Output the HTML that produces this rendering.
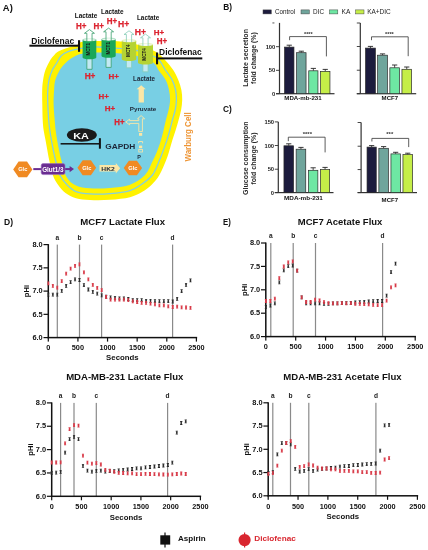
<!DOCTYPE html>
<html><head><meta charset="utf-8"><style>
html,body{margin:0;padding:0;background:#fff;}
body{width:428px;height:550px;overflow:hidden;}
svg{display:block;font-family:"Liberation Sans", sans-serif;filter:blur(0.35px);}
</style></head><body>
<svg width="428" height="550" viewBox="0 0 428 550">
<rect width="428" height="550" fill="#fff"/>
<path d="M98.00,41.10 C102.67,41.12 111.50,40.72 118.00,41.30 C124.50,41.88 131.67,43.27 137.00,44.60 C142.33,45.93 146.67,47.97 150.00,49.30 C153.33,50.63 154.50,50.82 157.00,52.60 C159.50,54.38 162.30,57.10 165.00,60.00 C167.70,62.90 170.98,66.67 173.20,70.00 C175.42,73.33 176.93,76.67 178.30,80.00 C179.67,83.33 180.75,86.67 181.40,90.00 C182.05,93.33 182.25,96.67 182.20,100.00 C182.15,103.33 181.70,106.67 181.10,110.00 C180.50,113.33 179.50,116.67 178.60,120.00 C177.70,123.33 176.73,126.67 175.70,130.00 C174.67,133.33 173.43,136.67 172.40,140.00 C171.37,143.33 170.53,146.67 169.50,150.00 C168.47,153.33 167.88,155.83 166.20,160.00 C164.52,164.17 161.87,170.83 159.40,175.00 C156.93,179.17 154.30,182.17 151.40,185.00 C148.50,187.83 145.57,189.97 142.00,192.00 C138.43,194.03 135.33,195.90 130.00,197.20 C124.67,198.50 116.67,199.33 110.00,199.80 C103.33,200.27 95.67,200.27 90.00,200.00 C84.33,199.73 80.08,199.37 76.00,198.20 C71.92,197.03 68.47,195.20 65.50,193.00 C62.53,190.80 60.32,188.00 58.20,185.00 C56.08,182.00 54.30,179.17 52.80,175.00 C51.30,170.83 50.12,164.17 49.20,160.00 C48.28,155.83 47.92,153.33 47.30,150.00 C46.68,146.67 46.12,143.33 45.50,140.00 C44.88,136.67 44.07,133.33 43.60,130.00 C43.13,126.67 42.92,124.33 42.70,120.00 C42.48,115.67 42.38,109.00 42.30,104.00 C42.22,99.00 42.07,94.00 42.20,90.00 C42.33,86.00 42.57,83.33 43.10,80.00 C43.63,76.67 44.20,73.33 45.40,70.00 C46.60,66.67 48.85,62.47 50.30,60.00 C51.75,57.53 52.78,56.62 54.10,55.20 C55.42,53.78 55.90,52.75 58.20,51.50 C60.50,50.25 64.93,48.68 67.90,47.70 C70.87,46.72 73.82,46.55 76.00,45.60 C78.18,44.65 78.67,42.73 81.00,42.00 C83.33,41.27 87.17,41.35 90.00,41.20 C92.83,41.05 93.33,41.08 98.00,41.10Z" fill="#fff200"/>
<path d="M98.00,52.50 C102.67,52.58 111.50,52.72 118.00,53.30 C124.50,53.88 131.67,54.80 137.00,56.00 C142.33,57.20 146.92,59.03 150.00,60.50 C153.08,61.97 154.08,63.22 155.50,64.80 C156.92,66.38 156.80,67.47 158.50,70.00 C160.20,72.53 163.95,76.67 165.70,80.00 C167.45,83.33 168.27,86.67 169.00,90.00 C169.73,93.33 170.17,96.67 170.10,100.00 C170.03,103.33 169.30,106.67 168.60,110.00 C167.90,113.33 166.73,116.67 165.90,120.00 C165.07,123.33 164.42,126.67 163.60,130.00 C162.78,133.33 162.00,136.67 161.00,140.00 C160.00,143.33 158.92,146.67 157.60,150.00 C156.28,153.33 155.20,155.83 153.10,160.00 C151.00,164.17 148.93,170.83 145.00,175.00 C141.07,179.17 135.33,182.85 129.50,185.00 C123.67,187.15 116.58,187.35 110.00,187.90 C103.42,188.45 95.67,188.70 90.00,188.30 C84.33,187.90 79.92,187.38 76.00,185.50 C72.08,183.62 68.95,181.25 66.50,177.00 C64.05,172.75 62.55,164.50 61.30,160.00 C60.05,155.50 59.70,153.33 59.00,150.00 C58.30,146.67 57.67,143.33 57.10,140.00 C56.53,136.67 56.00,133.33 55.60,130.00 C55.20,126.67 55.03,124.33 54.70,120.00 C54.37,115.67 53.70,109.00 53.60,104.00 C53.50,99.00 53.82,94.00 54.10,90.00 C54.38,86.00 54.35,83.33 55.30,80.00 C56.25,76.67 58.25,72.67 59.80,70.00 C61.35,67.33 62.87,65.83 64.60,64.00 C66.33,62.17 68.15,60.47 70.20,59.00 C72.25,57.53 74.93,56.08 76.90,55.20 C78.87,54.32 79.82,54.10 82.00,53.70 C84.18,53.30 87.33,53.00 90.00,52.80 C92.67,52.60 93.33,52.42 98.00,52.50Z" fill="#78cfe4"/>
<path d="M98.00,47.00 C102.67,47.18 111.50,47.72 118.00,48.30 C124.50,48.88 131.67,49.47 137.00,50.50 C142.33,51.53 146.33,52.92 150.00,54.50 C153.67,56.08 156.43,57.42 159.00,60.00 C161.57,62.58 163.20,66.67 165.40,70.00 C167.60,73.33 170.50,76.67 172.20,80.00 C173.90,83.33 174.90,86.67 175.60,90.00 C176.30,93.33 176.47,96.67 176.40,100.00 C176.33,103.33 175.87,106.67 175.20,110.00 C174.53,113.33 173.28,116.67 172.40,120.00 C171.52,123.33 170.80,126.67 169.90,130.00 C169.00,133.33 168.08,136.67 167.00,140.00 C165.92,143.33 164.63,146.67 163.40,150.00 C162.17,153.33 161.43,155.83 159.60,160.00 C157.77,164.17 155.58,170.83 152.40,175.00 C149.22,179.17 144.23,182.40 140.50,185.00 C136.77,187.60 135.08,189.17 130.00,190.60 C124.92,192.03 116.67,193.05 110.00,193.60 C103.33,194.15 95.67,194.23 90.00,193.90 C84.33,193.57 79.80,193.08 76.00,191.60 C72.20,190.12 69.90,187.77 67.20,185.00 C64.50,182.23 61.75,179.17 59.80,175.00 C57.85,170.83 56.58,164.17 55.50,160.00 C54.42,155.83 53.98,153.33 53.30,150.00 C52.62,146.67 51.98,143.33 51.40,140.00 C50.82,136.67 50.25,133.33 49.80,130.00 C49.35,126.67 49.03,124.33 48.70,120.00 C48.37,115.67 47.95,109.00 47.80,104.00 C47.65,99.00 47.60,94.00 47.80,90.00 C48.00,86.00 48.25,83.33 49.00,80.00 C49.75,76.67 51.00,72.83 52.30,70.00 C53.60,67.17 55.32,65.38 56.80,63.00 C58.28,60.62 59.33,57.60 61.20,55.70 C63.07,53.80 64.88,52.78 68.00,51.60 C71.12,50.42 76.23,49.33 79.90,48.60 C83.57,47.87 86.98,47.47 90.00,47.20 C93.02,46.93 93.33,46.82 98.00,47.00Z" fill="none" stroke="#86d0dc" stroke-width="1.3"/>
<ellipse cx="89.45" cy="40.00" rx="6.85" ry="1.3" fill="#f4fbf6" stroke="#1aa758" stroke-width="0.5" stroke-opacity="0.7"/>
<path d="M89.45,29.60 L94.45,33.30 L92.05,33.30 L92.05,69.30 L86.85,69.30 L86.85,33.30 L84.45,33.30Z" fill="#fff" fill-opacity="0.55" stroke="#3a9e6c" stroke-width="0.8"/>
<path d="M82.60,40.00 A6.85,1.3 0 0 0 96.30,40.00 L96.30,57.40 A6.85,1.80 0 0 1 82.60,57.40Z" fill="#1aa758"/>
<text transform="translate(90.35,49.30) rotate(-90)" font-size="4.6" font-weight="bold" fill="#1a1a1a" text-anchor="middle">MCT1</text>
<ellipse cx="108.60" cy="39.40" rx="7.10" ry="1.3" fill="#f4fbf6" stroke="#1aa758" stroke-width="0.5" stroke-opacity="0.7"/>
<path d="M108.60,28.10 L113.60,31.80 L111.20,31.80 L111.20,67.40 L106.00,67.40 L106.00,31.80 L103.60,31.80Z" fill="#fff" fill-opacity="0.55" stroke="#3a9e6c" stroke-width="0.8"/>
<path d="M101.50,39.40 A7.10,1.3 0 0 0 115.70,39.40 L115.70,56.00 A7.10,1.80 0 0 1 101.50,56.00Z" fill="#1aa758"/>
<text transform="translate(109.50,48.30) rotate(-90)" font-size="4.6" font-weight="bold" fill="#1a1a1a" text-anchor="middle">MCT1</text>
<ellipse cx="129.00" cy="41.00" rx="7.20" ry="1.3" fill="#f4fbf6" stroke="#b5d334" stroke-width="0.5" stroke-opacity="0.7"/>
<path d="M129.00,30.80 L134.00,34.50 L131.60,34.50 L131.60,67.80 L126.40,67.80 L126.40,34.50 L124.00,34.50Z" fill="#fff" fill-opacity="0.55" stroke="#86cdb8" stroke-width="0.8"/>
<path d="M121.80,41.00 A7.20,1.3 0 0 0 136.20,41.00 L136.20,59.20 A7.20,1.80 0 0 1 121.80,59.20Z" fill="#b5d334"/>
<text transform="translate(129.90,50.70) rotate(-90)" font-size="4.6" font-weight="bold" fill="#1a1a1a" text-anchor="middle">MCT4</text>
<ellipse cx="145.50" cy="44.80" rx="7.50" ry="1.3" fill="#f4fbf6" stroke="#b5d334" stroke-width="0.5" stroke-opacity="0.7"/>
<path d="M145.50,34.10 L150.50,37.80 L148.10,37.80 L148.10,71.80 L142.90,71.80 L142.90,37.80 L140.50,37.80Z" fill="#fff" fill-opacity="0.55" stroke="#86cdb8" stroke-width="0.8"/>
<path d="M138.00,44.80 A7.50,1.3 0 0 0 153.00,44.80 L153.00,62.80 A7.50,1.80 0 0 1 138.00,62.80Z" fill="#b5d334"/>
<text transform="translate(146.40,54.40) rotate(-90)" font-size="4.6" font-weight="bold" fill="#1a1a1a" text-anchor="middle">MCT4</text>
<rect x="29.4" y="44.7" width="50" height="2" fill="#111"/>
<rect x="78" y="40.2" width="2.1" height="11.6" fill="#111"/>
<rect x="156.3" y="57.4" width="46" height="2" fill="#111"/>
<rect x="156" y="52.5" width="2.1" height="11.8" fill="#111"/>
<text x="31.33" y="43.50" font-size="9" font-weight="bold" fill="#111" textLength="42.81" lengthAdjust="spacingAndGlyphs" >Diclofenac</text>
<text x="159.14" y="54.90" font-size="8.4" font-weight="bold" fill="#111" textLength="42.51" lengthAdjust="spacingAndGlyphs" >Diclofenac</text>
<text x="74.77" y="17.90" font-size="6.8" font-weight="bold" fill="#111" textLength="22.55" lengthAdjust="spacingAndGlyphs" >Lactate</text>
<text x="100.97" y="13.60" font-size="6.8" font-weight="bold" fill="#111" textLength="22.55" lengthAdjust="spacingAndGlyphs" >Lactate</text>
<text x="136.98" y="20.00" font-size="6.8" font-weight="bold" fill="#111" textLength="22.24" lengthAdjust="spacingAndGlyphs" >Lactate</text>
<text x="75.96" y="29.00" font-size="8.7" font-weight="bold" fill="#dc2430" textLength="10.46" lengthAdjust="spacingAndGlyphs" stroke="#dc2430" stroke-width="0.25">H+</text>
<text x="93.46" y="29.00" font-size="8.7" font-weight="bold" fill="#dc2430" textLength="10.46" lengthAdjust="spacingAndGlyphs" stroke="#dc2430" stroke-width="0.25">H+</text>
<text x="106.66" y="23.60" font-size="9.13" font-weight="bold" fill="#dc2430" textLength="10.46" lengthAdjust="spacingAndGlyphs" stroke="#dc2430" stroke-width="0.25">H+</text>
<text x="117.93" y="26.80" font-size="8.84" font-weight="bold" fill="#dc2430" textLength="11.22" lengthAdjust="spacingAndGlyphs" stroke="#dc2430" stroke-width="0.25">H+</text>
<text x="134.73" y="34.80" font-size="8.56" font-weight="bold" fill="#dc2430" textLength="11.22" lengthAdjust="spacingAndGlyphs" stroke="#dc2430" stroke-width="0.25">H+</text>
<text x="153.66" y="34.90" font-size="7.84" font-weight="bold" fill="#dc2430" textLength="10.46" lengthAdjust="spacingAndGlyphs" stroke="#dc2430" stroke-width="0.25">H+</text>
<text x="156.76" y="43.60" font-size="8.56" font-weight="bold" fill="#dc2430" textLength="10.46" lengthAdjust="spacingAndGlyphs" stroke="#dc2430" stroke-width="0.25">H+</text>
<text x="84.65" y="79.30" font-size="8.13" font-weight="bold" fill="#dc2430" textLength="10.79" lengthAdjust="spacingAndGlyphs" stroke="#dc2430" stroke-width="0.25">H+</text>
<text x="108.56" y="79.40" font-size="7.99" font-weight="bold" fill="#dc2430" textLength="10.46" lengthAdjust="spacingAndGlyphs" stroke="#dc2430" stroke-width="0.25">H+</text>
<text x="98.47" y="99.10" font-size="7.84" font-weight="bold" fill="#dc2430" textLength="10.35" lengthAdjust="spacingAndGlyphs" stroke="#dc2430" stroke-width="0.25">H+</text>
<text x="104.76" y="111.10" font-size="7.84" font-weight="bold" fill="#dc2430" textLength="10.46" lengthAdjust="spacingAndGlyphs" stroke="#dc2430" stroke-width="0.25">H+</text>
<text x="114.27" y="124.70" font-size="8.27" font-weight="bold" fill="#dc2430" textLength="10.35" lengthAdjust="spacingAndGlyphs" stroke="#dc2430" stroke-width="0.25">H+</text>
<text x="133.08" y="80.90" font-size="6.7" font-weight="bold" fill="#1d2738" textLength="21.93" lengthAdjust="spacingAndGlyphs" >Lactate</text>
<text x="129.68" y="111.40" font-size="5.4" font-weight="bold" fill="#1d2738" textLength="26.64" lengthAdjust="spacingAndGlyphs" >Pyruvate</text>
<text x="105.26" y="148.80" font-size="7.6" font-weight="bold" fill="#1d2738" textLength="30.10" lengthAdjust="spacingAndGlyphs" >GAPDH</text>
<text x="137.23" y="158.50" font-size="5.8" font-weight="bold" fill="#1d2738" textLength="3.65" lengthAdjust="spacingAndGlyphs" >P</text>
<path d="M141.2,85.2 L145.8,89.2 L143.9,89.2 L143.9,102.6 L138.6,102.6 L138.6,89.2 L136.6,89.2Z" fill="#fbe7a6"/>
<path d="M141.1,115.6 L144.7,118.8 L142.4,118.8 L142.4,131.6 L138.8,131.6 L138.8,123.4 L129.6,123.4 L129.6,124.8 L125.8,122.0 L129.6,119.2 L129.6,120.6 L138.8,120.6 L138.8,118.8 L137.5,118.8Z" fill="none" stroke="#fbe7a6" stroke-width="0.9" stroke-linejoin="round"/>
<rect x="139" y="133" width="3.2" height="2.8" fill="#fbe7a6"/>
<path d="M138.6,141.5 L142.6,141.5 M138.6,141.5 L138.6,143.3 M142.6,141.5 L142.6,143.3" stroke="#fbe7a6" stroke-width="0.9" fill="none"/>
<rect x="139" y="145.6" width="3.2" height="2.6" fill="#fbe7a6"/>
<rect x="138.8" y="149.4" width="3.6" height="2.6" fill="none" stroke="#fbe7a6" stroke-width="0.8"/>
<ellipse cx="81.85" cy="135" rx="15" ry="6.7" fill="#1a1a1a"/>
<text x="73.17" y="139.00" font-size="9.2" font-weight="bold" fill="#fff" textLength="15.71" lengthAdjust="spacingAndGlyphs" >KA</text>
<rect x="60.6" y="143.05" width="39.3" height="1.5" fill="#111"/>
<rect x="98.9" y="138.2" width="2" height="10.5" fill="#111"/>
<polygon points="13.20,169.40 18.58,161.50 27.02,161.50 32.40,169.40 27.02,177.30 18.58,177.30" fill="#f08a22"/>
<text x="18.17" y="171.30" font-size="5.6" font-weight="bold" fill="#fff" textLength="9.20" lengthAdjust="spacingAndGlyphs" >Glc</text>
<polygon points="77.45,167.80 82.69,160.30 90.91,160.30 96.15,167.80 90.91,175.30 82.69,175.30" fill="#f08a22"/>
<text x="82.17" y="169.70" font-size="5.6" font-weight="bold" fill="#fff" textLength="9.20" lengthAdjust="spacingAndGlyphs" >Glc</text>
<polygon points="123.70,168.00 128.85,160.70 136.95,160.70 142.10,168.00 136.95,175.30 128.85,175.30" fill="#f08a22"/>
<text x="128.27" y="169.90" font-size="5.6" font-weight="bold" fill="#fff" textLength="9.20" lengthAdjust="spacingAndGlyphs" >Glc</text>
<rect x="33.3" y="168.1" width="37" height="2" fill="#6a2d91"/>
<path d="M69.6,166 L74,169.1 L69.6,172.2Z" fill="#6a2d91"/>
<rect x="41.2" y="163.6" width="23.8" height="11" rx="1.8" fill="#6a2d91" stroke="#9a6cc0" stroke-width="0.6"/>
<text x="42.14" y="171.60" font-size="6.4" font-weight="bold" fill="#fff" textLength="21.49" lengthAdjust="spacingAndGlyphs" >Glut1/3</text>
<path d="M99.5,165 L115.8,165 L115.8,163.1 L120.2,168.2 L115.8,173.4 L115.8,171.5 L99.5,171.5Z" fill="#fbe7a6"/>
<text x="101.35" y="170.60" font-size="6.2" font-weight="bold" fill="#1d2738" textLength="13.42" lengthAdjust="spacingAndGlyphs" >HK2</text>
<text transform="translate(191.40,161.60) rotate(-90)" x="-0.01" y="0" font-size="8.2" font-weight="bold" fill="#ee9535" textLength="49.37" lengthAdjust="spacingAndGlyphs">Warburg Cell</text>
<text x="2.87" y="11.20" font-size="9" font-weight="bold" fill="#111" textLength="9.90" lengthAdjust="spacingAndGlyphs" >A)</text>
<text x="223.30" y="9.60" font-size="8.4" font-weight="bold" fill="#111" text-anchor="start" textLength="8.80" lengthAdjust="spacingAndGlyphs" >B)</text>
<text x="223.00" y="111.90" font-size="8.6" font-weight="bold" fill="#111" text-anchor="start" textLength="8.80" lengthAdjust="spacingAndGlyphs" >C)</text>
<text x="4.00" y="225.20" font-size="8.6" font-weight="bold" fill="#111" text-anchor="start" textLength="9.00" lengthAdjust="spacingAndGlyphs" >D)</text>
<text x="223.00" y="225.40" font-size="8.6" font-weight="bold" fill="#111" text-anchor="start" textLength="7.80" lengthAdjust="spacingAndGlyphs" >E)</text>
<rect x="278.90" y="22.90" width="1.2" height="70.80" fill="#333"/>
<rect x="276.00" y="93.10" width="58.50" height="1.2" fill="#333"/>
<rect x="276.00" y="93.25" width="3.5" height="0.9" fill="#333"/>
<text x="275.30" y="95.70" font-size="5.8" font-weight="bold" fill="#222" text-anchor="end" >0</text>
<rect x="276.00" y="69.85" width="3.5" height="0.9" fill="#333"/>
<text x="275.30" y="72.30" font-size="5.8" font-weight="bold" fill="#222" text-anchor="end" >50</text>
<rect x="276.00" y="46.25" width="3.5" height="0.9" fill="#333"/>
<text x="275.30" y="48.70" font-size="5.8" font-weight="bold" fill="#222" text-anchor="end" >100</text>
<line x1="289.25" y1="45.20" x2="289.25" y2="47.10" stroke="#222" stroke-width="0.8"/>
<line x1="286.65" y1="45.20" x2="291.85" y2="45.20" stroke="#222" stroke-width="0.9"/>
<rect x="284.55" y="47.10" width="9.40" height="46.60" fill="#1c1b3d" stroke="#2a2a2a" stroke-width="0.7"/>
<line x1="301.30" y1="51.20" x2="301.30" y2="52.70" stroke="#222" stroke-width="0.8"/>
<line x1="298.70" y1="51.20" x2="303.90" y2="51.20" stroke="#222" stroke-width="0.9"/>
<rect x="296.55" y="52.70" width="9.50" height="41.00" fill="#6fa59c" stroke="#2a2a2a" stroke-width="0.7"/>
<line x1="313.35" y1="68.40" x2="313.35" y2="70.80" stroke="#222" stroke-width="0.8"/>
<line x1="310.75" y1="68.40" x2="315.95" y2="68.40" stroke="#222" stroke-width="0.9"/>
<rect x="308.75" y="70.80" width="9.20" height="22.90" fill="#6ee7a3" stroke="#2a2a2a" stroke-width="0.7"/>
<line x1="325.25" y1="69.40" x2="325.25" y2="71.40" stroke="#222" stroke-width="0.8"/>
<line x1="322.65" y1="69.40" x2="327.85" y2="69.40" stroke="#222" stroke-width="0.9"/>
<rect x="320.55" y="71.40" width="9.40" height="22.30" fill="#c5ee48" stroke="#2a2a2a" stroke-width="0.7"/>
<path d="M289.60,40.20 L289.60,36.60 L326.40,36.60 L326.40,56.40" fill="none" stroke="#333" stroke-width="0.8"/>
<text x="304.00" y="35.80" font-size="5.5" font-weight="bold" fill="#333" text-anchor="start" textLength="8.70" lengthAdjust="spacingAndGlyphs" >****</text>
<text x="284.30" y="100.20" font-size="5.8" font-weight="bold" fill="#111" text-anchor="start" textLength="37.30" lengthAdjust="spacingAndGlyphs" >MDA-mb-231</text>
<rect x="272.4" y="22.5" width="2" height="0.9" fill="#444"/>
<rect x="359.70" y="23.00" width="1.2" height="70.70" fill="#333"/>
<rect x="356.80" y="93.10" width="59.40" height="1.2" fill="#333"/>
<rect x="356.80" y="93.25" width="3.5" height="0.9" fill="#333"/>
<rect x="356.80" y="69.75" width="3.5" height="0.9" fill="#333"/>
<rect x="356.80" y="46.05" width="3.5" height="0.9" fill="#333"/>
<rect x="356.80" y="22.55" width="3.5" height="0.9" fill="#333"/>
<line x1="370.45" y1="46.40" x2="370.45" y2="48.10" stroke="#222" stroke-width="0.8"/>
<line x1="367.85" y1="46.40" x2="373.05" y2="46.40" stroke="#222" stroke-width="0.9"/>
<rect x="365.55" y="48.10" width="9.80" height="45.60" fill="#1c1b3d" stroke="#2a2a2a" stroke-width="0.7"/>
<line x1="382.55" y1="53.90" x2="382.55" y2="55.20" stroke="#222" stroke-width="0.8"/>
<line x1="379.95" y1="53.90" x2="385.15" y2="53.90" stroke="#222" stroke-width="0.9"/>
<rect x="377.65" y="55.20" width="9.80" height="38.50" fill="#6fa59c" stroke="#2a2a2a" stroke-width="0.7"/>
<line x1="394.65" y1="65.00" x2="394.65" y2="67.80" stroke="#222" stroke-width="0.8"/>
<line x1="392.05" y1="65.00" x2="397.25" y2="65.00" stroke="#222" stroke-width="0.9"/>
<rect x="389.85" y="67.80" width="9.60" height="25.90" fill="#6ee7a3" stroke="#2a2a2a" stroke-width="0.7"/>
<line x1="406.75" y1="67.00" x2="406.75" y2="69.30" stroke="#222" stroke-width="0.8"/>
<line x1="404.15" y1="67.00" x2="409.35" y2="67.00" stroke="#222" stroke-width="0.9"/>
<rect x="401.95" y="69.30" width="9.60" height="24.40" fill="#c5ee48" stroke="#2a2a2a" stroke-width="0.7"/>
<path d="M371.50,40.20 L371.50,36.80 L408.20,36.80 L408.20,56.20" fill="none" stroke="#333" stroke-width="0.8"/>
<text x="385.00" y="35.80" font-size="5.5" font-weight="bold" fill="#333" text-anchor="start" textLength="8.80" lengthAdjust="spacingAndGlyphs" >****</text>
<text x="381.60" y="100.20" font-size="5.8" font-weight="bold" fill="#111" text-anchor="start" textLength="16.50" lengthAdjust="spacingAndGlyphs" >MCF7</text>
<rect x="277.70" y="121.90" width="1.2" height="70.70" fill="#333"/>
<rect x="274.80" y="192.00" width="58.70" height="1.2" fill="#333"/>
<rect x="274.80" y="192.15" width="3.5" height="0.9" fill="#333"/>
<text x="274.10" y="194.60" font-size="5.8" font-weight="bold" fill="#222" text-anchor="end" >0</text>
<rect x="274.80" y="168.75" width="3.5" height="0.9" fill="#333"/>
<text x="274.10" y="171.20" font-size="5.8" font-weight="bold" fill="#222" text-anchor="end" >50</text>
<rect x="274.80" y="145.05" width="3.5" height="0.9" fill="#333"/>
<text x="274.10" y="147.50" font-size="5.8" font-weight="bold" fill="#222" text-anchor="end" >100</text>
<rect x="274.80" y="121.45" width="3.5" height="0.9" fill="#333"/>
<text x="274.10" y="123.90" font-size="5.8" font-weight="bold" fill="#222" text-anchor="end" >150</text>
<line x1="288.75" y1="143.80" x2="288.75" y2="145.80" stroke="#222" stroke-width="0.8"/>
<line x1="286.15" y1="143.80" x2="291.35" y2="143.80" stroke="#222" stroke-width="0.9"/>
<rect x="283.95" y="145.80" width="9.60" height="46.80" fill="#1c1b3d" stroke="#2a2a2a" stroke-width="0.7"/>
<line x1="300.95" y1="147.40" x2="300.95" y2="149.20" stroke="#222" stroke-width="0.8"/>
<line x1="298.35" y1="147.40" x2="303.55" y2="147.40" stroke="#222" stroke-width="0.9"/>
<rect x="296.15" y="149.20" width="9.60" height="43.40" fill="#6fa59c" stroke="#2a2a2a" stroke-width="0.7"/>
<line x1="313.15" y1="167.80" x2="313.15" y2="170.30" stroke="#222" stroke-width="0.8"/>
<line x1="310.55" y1="167.80" x2="315.75" y2="167.80" stroke="#222" stroke-width="0.9"/>
<rect x="308.45" y="170.30" width="9.40" height="22.30" fill="#6ee7a3" stroke="#2a2a2a" stroke-width="0.7"/>
<line x1="325.05" y1="167.40" x2="325.05" y2="169.60" stroke="#222" stroke-width="0.8"/>
<line x1="322.45" y1="167.40" x2="327.65" y2="167.40" stroke="#222" stroke-width="0.9"/>
<rect x="320.45" y="169.60" width="9.20" height="23.00" fill="#c5ee48" stroke="#2a2a2a" stroke-width="0.7"/>
<path d="M288.30,141.20 L288.30,137.20 L325.10,137.20 L325.10,152.40" fill="none" stroke="#333" stroke-width="0.8"/>
<text x="302.70" y="135.90" font-size="5.5" font-weight="bold" fill="#333" text-anchor="start" textLength="9.30" lengthAdjust="spacingAndGlyphs" >****</text>
<text x="284.00" y="200.20" font-size="5.8" font-weight="bold" fill="#111" text-anchor="start" textLength="38.90" lengthAdjust="spacingAndGlyphs" >MDA-mb-231</text>
<rect x="360.50" y="122.50" width="1.2" height="70.10" fill="#333"/>
<rect x="357.60" y="192.00" width="59.40" height="1.2" fill="#333"/>
<rect x="357.60" y="192.15" width="3.5" height="0.9" fill="#333"/>
<rect x="357.60" y="169.15" width="3.5" height="0.9" fill="#333"/>
<rect x="357.60" y="145.75" width="3.5" height="0.9" fill="#333"/>
<rect x="357.60" y="122.05" width="3.5" height="0.9" fill="#333"/>
<line x1="371.65" y1="145.60" x2="371.65" y2="147.10" stroke="#222" stroke-width="0.8"/>
<line x1="369.05" y1="145.60" x2="374.25" y2="145.60" stroke="#222" stroke-width="0.9"/>
<rect x="367.05" y="147.10" width="9.20" height="45.50" fill="#1c1b3d" stroke="#2a2a2a" stroke-width="0.7"/>
<line x1="383.60" y1="146.60" x2="383.60" y2="148.30" stroke="#222" stroke-width="0.8"/>
<line x1="381.00" y1="146.60" x2="386.20" y2="146.60" stroke="#222" stroke-width="0.9"/>
<rect x="378.85" y="148.30" width="9.50" height="44.30" fill="#6fa59c" stroke="#2a2a2a" stroke-width="0.7"/>
<line x1="395.65" y1="152.30" x2="395.65" y2="153.90" stroke="#222" stroke-width="0.8"/>
<line x1="393.05" y1="152.30" x2="398.25" y2="152.30" stroke="#222" stroke-width="0.9"/>
<rect x="390.95" y="153.90" width="9.40" height="38.70" fill="#6ee7a3" stroke="#2a2a2a" stroke-width="0.7"/>
<line x1="407.75" y1="153.20" x2="407.75" y2="154.60" stroke="#222" stroke-width="0.8"/>
<line x1="405.15" y1="153.20" x2="410.35" y2="153.20" stroke="#222" stroke-width="0.9"/>
<rect x="402.95" y="154.60" width="9.60" height="38.00" fill="#c5ee48" stroke="#2a2a2a" stroke-width="0.7"/>
<path d="M371.90,141.50 L371.90,138.40 L408.70,138.40 L408.70,147.10" fill="none" stroke="#333" stroke-width="0.8"/>
<text x="386.30" y="135.90" font-size="5.5" font-weight="bold" fill="#333" text-anchor="start" textLength="6.90" lengthAdjust="spacingAndGlyphs" >***</text>
<text x="381.60" y="201.50" font-size="5.8" font-weight="bold" fill="#111" text-anchor="start" textLength="16.50" lengthAdjust="spacingAndGlyphs" >MCF7</text>
<text transform="translate(247.70,86.20) rotate(-90)" x="-0.47" y="0" font-size="7.0" font-weight="bold" fill="#2a2a2a" textLength="57.60" lengthAdjust="spacingAndGlyphs">Lactate secretion</text>
<text transform="translate(256.20,83.80) rotate(-90)" x="-0.12" y="0" font-size="7.0" font-weight="bold" fill="#2a2a2a" textLength="51.77" lengthAdjust="spacingAndGlyphs">fold change (%)</text>
<text transform="translate(247.70,194.60) rotate(-90)" x="-0.29" y="0" font-size="7.0" font-weight="bold" fill="#2a2a2a" textLength="73.32" lengthAdjust="spacingAndGlyphs">Glucose consumption</text>
<text transform="translate(256.20,184.40) rotate(-90)" x="-0.12" y="0" font-size="7.0" font-weight="bold" fill="#2a2a2a" textLength="52.07" lengthAdjust="spacingAndGlyphs">fold change (%)</text>
<rect x="263.00" y="9.9" width="8.3" height="4.0" fill="#1c1b3d" stroke="#444" stroke-width="0.5"/>
<rect x="301.00" y="9.9" width="8.3" height="4.0" fill="#6fa59c" stroke="#444" stroke-width="0.5"/>
<rect x="329.50" y="9.9" width="8.3" height="4.0" fill="#6ee7a3" stroke="#444" stroke-width="0.5"/>
<rect x="355.70" y="9.9" width="8.3" height="4.0" fill="#c5ee48" stroke="#444" stroke-width="0.5"/>
<text x="274.88" y="14.40" font-size="6.8" fill="#222" textLength="20.34" lengthAdjust="spacingAndGlyphs" >Control</text>
<text x="313.08" y="14.40" font-size="6.8" fill="#222" textLength="10.96" lengthAdjust="spacingAndGlyphs" >DIC</text>
<text x="341.56" y="14.40" font-size="6.8" fill="#222" textLength="8.86" lengthAdjust="spacingAndGlyphs" >KA</text>
<text x="367.17" y="14.40" font-size="6.8" fill="#222" textLength="23.58" lengthAdjust="spacingAndGlyphs" >KA+DIC</text>
<rect x="56.70" y="244.60" width="1.2" height="93.00" fill="#8a8a8a"/>
<text x="57.30" y="239.60" font-size="6.6" font-weight="bold" fill="#222" text-anchor="middle" >a</text>
<rect x="78.90" y="244.60" width="1.2" height="93.00" fill="#8a8a8a"/>
<text x="79.50" y="239.60" font-size="6.6" font-weight="bold" fill="#222" text-anchor="middle" >b</text>
<rect x="101.00" y="244.60" width="1.2" height="93.00" fill="#8a8a8a"/>
<text x="101.60" y="239.60" font-size="6.6" font-weight="bold" fill="#222" text-anchor="middle" >c</text>
<rect x="172.00" y="244.60" width="1.2" height="93.00" fill="#8a8a8a"/>
<text x="172.60" y="239.60" font-size="6.6" font-weight="bold" fill="#222" text-anchor="middle" >d</text>
<rect x="47.55" y="244.10" width="1.5" height="94.00" fill="#111"/>
<rect x="47.55" y="336.85" width="149.60" height="1.5" fill="#111"/>
<rect x="43.50" y="337.00" width="4.8" height="1.2" fill="#111"/>
<text x="42.70" y="339.80" font-size="6.4" font-weight="bold" fill="#111" text-anchor="end" textLength="10.30" lengthAdjust="spacingAndGlyphs" >6.0</text>
<rect x="43.50" y="313.75" width="4.8" height="1.2" fill="#111"/>
<text x="42.70" y="316.55" font-size="6.4" font-weight="bold" fill="#111" text-anchor="end" textLength="10.30" lengthAdjust="spacingAndGlyphs" >6.5</text>
<rect x="43.50" y="290.50" width="4.8" height="1.2" fill="#111"/>
<text x="42.70" y="293.30" font-size="6.4" font-weight="bold" fill="#111" text-anchor="end" textLength="10.30" lengthAdjust="spacingAndGlyphs" >7.0</text>
<rect x="43.50" y="267.25" width="4.8" height="1.2" fill="#111"/>
<text x="42.70" y="270.05" font-size="6.4" font-weight="bold" fill="#111" text-anchor="end" textLength="10.30" lengthAdjust="spacingAndGlyphs" >7.5</text>
<rect x="43.50" y="244.00" width="4.8" height="1.2" fill="#111"/>
<text x="42.70" y="246.80" font-size="6.4" font-weight="bold" fill="#111" text-anchor="end" textLength="10.30" lengthAdjust="spacingAndGlyphs" >8.0</text>
<rect x="47.70" y="337.60" width="1.2" height="4" fill="#111"/>
<text x="48.30" y="350.30" font-size="7.3" font-weight="bold" fill="#111" text-anchor="middle" >0</text>
<rect x="77.32" y="337.60" width="1.2" height="4" fill="#111"/>
<text x="77.92" y="350.30" font-size="7.3" font-weight="bold" fill="#111" text-anchor="middle" >500</text>
<rect x="106.94" y="337.60" width="1.2" height="4" fill="#111"/>
<text x="107.54" y="350.30" font-size="7.3" font-weight="bold" fill="#111" text-anchor="middle" >1000</text>
<rect x="136.56" y="337.60" width="1.2" height="4" fill="#111"/>
<text x="137.16" y="350.30" font-size="7.3" font-weight="bold" fill="#111" text-anchor="middle" >1500</text>
<rect x="166.18" y="337.60" width="1.2" height="4" fill="#111"/>
<text x="166.78" y="350.30" font-size="7.3" font-weight="bold" fill="#111" text-anchor="middle" >2000</text>
<rect x="195.80" y="337.60" width="1.2" height="4" fill="#111"/>
<text x="196.40" y="350.30" font-size="7.3" font-weight="bold" fill="#111" text-anchor="middle" >2500</text>
<text x="122.35" y="359.60" font-size="7.6" font-weight="bold" fill="#111" text-anchor="middle" textLength="32.50" lengthAdjust="spacingAndGlyphs" >Seconds</text>
<text transform="translate(29.10,291.10) rotate(-90)" font-size="7.6" font-weight="bold" fill="#111" text-anchor="middle">pHi</text>
<text x="80.36" y="224.70" font-size="9.5" font-weight="bold" fill="#111" textLength="84.61" lengthAdjust="spacingAndGlyphs" >MCF7 Lactate Flux</text>
<path d="M47.30,292.70h2.2v0.8h-0.6v2.20h0.6v0.8h-2.2v-0.8h0.6v-2.20h-0.6z" fill="#2a2a2a"/>
<rect x="47.60" y="293.80" width="1.6" height="1.6" fill="#2a2a2a" fill-opacity="0.8"/>
<path d="M51.74,292.70h2.2v0.8h-0.6v2.20h0.6v0.8h-2.2v-0.8h0.6v-2.20h-0.6z" fill="#2a2a2a"/>
<rect x="52.04" y="293.80" width="1.6" height="1.6" fill="#2a2a2a" fill-opacity="0.8"/>
<path d="M56.18,292.70h2.2v0.8h-0.6v2.20h0.6v0.8h-2.2v-0.8h0.6v-2.20h-0.6z" fill="#2a2a2a"/>
<rect x="56.48" y="293.80" width="1.6" height="1.6" fill="#2a2a2a" fill-opacity="0.8"/>
<path d="M60.62,288.90h2.2v0.8h-0.6v2.20h0.6v0.8h-2.2v-0.8h0.6v-2.20h-0.6z" fill="#2a2a2a"/>
<rect x="60.92" y="290.00" width="1.6" height="1.6" fill="#2a2a2a" fill-opacity="0.8"/>
<path d="M65.06,283.90h2.2v0.8h-0.6v2.20h0.6v0.8h-2.2v-0.8h0.6v-2.20h-0.6z" fill="#2a2a2a"/>
<rect x="65.36" y="285.00" width="1.6" height="1.6" fill="#2a2a2a" fill-opacity="0.8"/>
<path d="M69.50,280.20h2.2v0.8h-0.6v2.20h0.6v0.8h-2.2v-0.8h0.6v-2.20h-0.6z" fill="#2a2a2a"/>
<rect x="69.80" y="281.30" width="1.6" height="1.6" fill="#2a2a2a" fill-opacity="0.8"/>
<path d="M73.94,277.40h2.2v0.8h-0.6v2.20h0.6v0.8h-2.2v-0.8h0.6v-2.20h-0.6z" fill="#2a2a2a"/>
<rect x="74.24" y="278.50" width="1.6" height="1.6" fill="#2a2a2a" fill-opacity="0.8"/>
<path d="M78.38,278.10h2.2v0.8h-0.6v2.20h0.6v0.8h-2.2v-0.8h0.6v-2.20h-0.6z" fill="#2a2a2a"/>
<rect x="78.68" y="279.20" width="1.6" height="1.6" fill="#2a2a2a" fill-opacity="0.8"/>
<path d="M82.82,283.30h2.2v0.8h-0.6v2.20h0.6v0.8h-2.2v-0.8h0.6v-2.20h-0.6z" fill="#2a2a2a"/>
<rect x="83.12" y="284.40" width="1.6" height="1.6" fill="#2a2a2a" fill-opacity="0.8"/>
<path d="M87.26,287.60h2.2v0.8h-0.6v2.20h0.6v0.8h-2.2v-0.8h0.6v-2.20h-0.6z" fill="#2a2a2a"/>
<rect x="87.56" y="288.70" width="1.6" height="1.6" fill="#2a2a2a" fill-opacity="0.8"/>
<path d="M91.70,289.90h2.2v0.8h-0.6v2.20h0.6v0.8h-2.2v-0.8h0.6v-2.20h-0.6z" fill="#2a2a2a"/>
<rect x="92.00" y="291.00" width="1.6" height="1.6" fill="#2a2a2a" fill-opacity="0.8"/>
<path d="M96.14,291.70h2.2v0.8h-0.6v2.20h0.6v0.8h-2.2v-0.8h0.6v-2.20h-0.6z" fill="#2a2a2a"/>
<rect x="96.44" y="292.80" width="1.6" height="1.6" fill="#2a2a2a" fill-opacity="0.8"/>
<path d="M100.58,293.40h2.2v0.8h-0.6v2.20h0.6v0.8h-2.2v-0.8h0.6v-2.20h-0.6z" fill="#2a2a2a"/>
<rect x="100.88" y="294.50" width="1.6" height="1.6" fill="#2a2a2a" fill-opacity="0.8"/>
<path d="M105.02,294.80h2.2v0.8h-0.6v2.20h0.6v0.8h-2.2v-0.8h0.6v-2.20h-0.6z" fill="#2a2a2a"/>
<rect x="105.32" y="295.90" width="1.6" height="1.6" fill="#2a2a2a" fill-opacity="0.8"/>
<path d="M109.46,295.40h2.2v0.8h-0.6v2.20h0.6v0.8h-2.2v-0.8h0.6v-2.20h-0.6z" fill="#2a2a2a"/>
<rect x="109.76" y="296.50" width="1.6" height="1.6" fill="#2a2a2a" fill-opacity="0.8"/>
<path d="M113.90,296.00h2.2v0.8h-0.6v2.20h0.6v0.8h-2.2v-0.8h0.6v-2.20h-0.6z" fill="#2a2a2a"/>
<rect x="114.20" y="297.10" width="1.6" height="1.6" fill="#2a2a2a" fill-opacity="0.8"/>
<path d="M118.34,296.50h2.2v0.8h-0.6v2.20h0.6v0.8h-2.2v-0.8h0.6v-2.20h-0.6z" fill="#2a2a2a"/>
<rect x="118.64" y="297.60" width="1.6" height="1.6" fill="#2a2a2a" fill-opacity="0.8"/>
<path d="M122.78,296.50h2.2v0.8h-0.6v2.20h0.6v0.8h-2.2v-0.8h0.6v-2.20h-0.6z" fill="#2a2a2a"/>
<rect x="123.08" y="297.60" width="1.6" height="1.6" fill="#2a2a2a" fill-opacity="0.8"/>
<path d="M127.22,297.10h2.2v0.8h-0.6v2.20h0.6v0.8h-2.2v-0.8h0.6v-2.20h-0.6z" fill="#2a2a2a"/>
<rect x="127.52" y="298.20" width="1.6" height="1.6" fill="#2a2a2a" fill-opacity="0.8"/>
<path d="M131.66,298.30h2.2v0.8h-0.6v2.20h0.6v0.8h-2.2v-0.8h0.6v-2.20h-0.6z" fill="#2a2a2a"/>
<rect x="131.96" y="299.40" width="1.6" height="1.6" fill="#2a2a2a" fill-opacity="0.8"/>
<path d="M136.10,298.30h2.2v0.8h-0.6v2.20h0.6v0.8h-2.2v-0.8h0.6v-2.20h-0.6z" fill="#2a2a2a"/>
<rect x="136.40" y="299.40" width="1.6" height="1.6" fill="#2a2a2a" fill-opacity="0.8"/>
<path d="M140.54,298.30h2.2v0.8h-0.6v2.20h0.6v0.8h-2.2v-0.8h0.6v-2.20h-0.6z" fill="#2a2a2a"/>
<rect x="140.84" y="299.40" width="1.6" height="1.6" fill="#2a2a2a" fill-opacity="0.8"/>
<path d="M144.98,298.90h2.2v0.8h-0.6v2.20h0.6v0.8h-2.2v-0.8h0.6v-2.20h-0.6z" fill="#2a2a2a"/>
<rect x="145.28" y="300.00" width="1.6" height="1.6" fill="#2a2a2a" fill-opacity="0.8"/>
<path d="M149.42,298.90h2.2v0.8h-0.6v2.20h0.6v0.8h-2.2v-0.8h0.6v-2.20h-0.6z" fill="#2a2a2a"/>
<rect x="149.72" y="300.00" width="1.6" height="1.6" fill="#2a2a2a" fill-opacity="0.8"/>
<path d="M153.86,299.30h2.2v0.8h-0.6v2.20h0.6v0.8h-2.2v-0.8h0.6v-2.20h-0.6z" fill="#2a2a2a"/>
<rect x="154.16" y="300.40" width="1.6" height="1.6" fill="#2a2a2a" fill-opacity="0.8"/>
<path d="M158.30,299.30h2.2v0.8h-0.6v2.20h0.6v0.8h-2.2v-0.8h0.6v-2.20h-0.6z" fill="#2a2a2a"/>
<rect x="158.60" y="300.40" width="1.6" height="1.6" fill="#2a2a2a" fill-opacity="0.8"/>
<path d="M162.74,299.30h2.2v0.8h-0.6v2.20h0.6v0.8h-2.2v-0.8h0.6v-2.20h-0.6z" fill="#2a2a2a"/>
<rect x="163.04" y="300.40" width="1.6" height="1.6" fill="#2a2a2a" fill-opacity="0.8"/>
<path d="M167.18,299.30h2.2v0.8h-0.6v2.20h0.6v0.8h-2.2v-0.8h0.6v-2.20h-0.6z" fill="#2a2a2a"/>
<rect x="167.48" y="300.40" width="1.6" height="1.6" fill="#2a2a2a" fill-opacity="0.8"/>
<path d="M171.62,299.60h2.2v0.8h-0.6v2.20h0.6v0.8h-2.2v-0.8h0.6v-2.20h-0.6z" fill="#2a2a2a"/>
<rect x="171.92" y="300.70" width="1.6" height="1.6" fill="#2a2a2a" fill-opacity="0.8"/>
<path d="M176.06,297.00h2.2v0.8h-0.6v2.20h0.6v0.8h-2.2v-0.8h0.6v-2.20h-0.6z" fill="#2a2a2a"/>
<rect x="176.36" y="298.10" width="1.6" height="1.6" fill="#2a2a2a" fill-opacity="0.8"/>
<path d="M180.50,289.30h2.2v0.8h-0.6v2.20h0.6v0.8h-2.2v-0.8h0.6v-2.20h-0.6z" fill="#2a2a2a"/>
<rect x="180.80" y="290.40" width="1.6" height="1.6" fill="#2a2a2a" fill-opacity="0.8"/>
<path d="M184.94,282.90h2.2v0.8h-0.6v2.20h0.6v0.8h-2.2v-0.8h0.6v-2.20h-0.6z" fill="#2a2a2a"/>
<rect x="185.24" y="284.00" width="1.6" height="1.6" fill="#2a2a2a" fill-opacity="0.8"/>
<path d="M189.38,278.40h2.2v0.8h-0.6v2.20h0.6v0.8h-2.2v-0.8h0.6v-2.20h-0.6z" fill="#2a2a2a"/>
<rect x="189.68" y="279.50" width="1.6" height="1.6" fill="#2a2a2a" fill-opacity="0.8"/>
<path d="M47.35,281.50h2.1v0.8h-0.5v2.20h0.5v0.8h-2.1v-0.8h0.5v-2.20h-0.5z" fill="#d83a48"/>
<rect x="47.50" y="282.40" width="1.8" height="2.0" fill="#d83a48" fill-opacity="0.85"/>
<path d="M51.79,283.90h2.1v0.8h-0.5v2.20h0.5v0.8h-2.1v-0.8h0.5v-2.20h-0.5z" fill="#d83a48"/>
<rect x="51.94" y="284.80" width="1.8" height="2.0" fill="#d83a48" fill-opacity="0.85"/>
<path d="M56.23,285.80h2.1v0.8h-0.5v2.20h0.5v0.8h-2.1v-0.8h0.5v-2.20h-0.5z" fill="#d83a48"/>
<rect x="56.38" y="286.70" width="1.8" height="2.0" fill="#d83a48" fill-opacity="0.85"/>
<path d="M60.67,279.20h2.1v0.8h-0.5v2.20h0.5v0.8h-2.1v-0.8h0.5v-2.20h-0.5z" fill="#d83a48"/>
<rect x="60.82" y="280.10" width="1.8" height="2.0" fill="#d83a48" fill-opacity="0.85"/>
<path d="M65.11,271.70h2.1v0.8h-0.5v2.20h0.5v0.8h-2.1v-0.8h0.5v-2.20h-0.5z" fill="#d83a48"/>
<rect x="65.26" y="272.60" width="1.8" height="2.0" fill="#d83a48" fill-opacity="0.85"/>
<path d="M69.55,266.70h2.1v0.8h-0.5v2.20h0.5v0.8h-2.1v-0.8h0.5v-2.20h-0.5z" fill="#d83a48"/>
<rect x="69.70" y="267.60" width="1.8" height="2.0" fill="#d83a48" fill-opacity="0.85"/>
<path d="M73.99,263.90h2.1v0.8h-0.5v2.20h0.5v0.8h-2.1v-0.8h0.5v-2.20h-0.5z" fill="#d83a48"/>
<rect x="74.14" y="264.80" width="1.8" height="2.0" fill="#d83a48" fill-opacity="0.85"/>
<path d="M78.43,262.40h2.1v0.8h-0.5v2.20h0.5v0.8h-2.1v-0.8h0.5v-2.20h-0.5z" fill="#d83a48"/>
<rect x="78.58" y="263.30" width="1.8" height="2.0" fill="#d83a48" fill-opacity="0.85"/>
<path d="M82.87,270.40h2.1v0.8h-0.5v2.20h0.5v0.8h-2.1v-0.8h0.5v-2.20h-0.5z" fill="#d83a48"/>
<rect x="83.02" y="271.30" width="1.8" height="2.0" fill="#d83a48" fill-opacity="0.85"/>
<path d="M87.31,277.40h2.1v0.8h-0.5v2.20h0.5v0.8h-2.1v-0.8h0.5v-2.20h-0.5z" fill="#d83a48"/>
<rect x="87.46" y="278.30" width="1.8" height="2.0" fill="#d83a48" fill-opacity="0.85"/>
<path d="M91.75,283.00h2.1v0.8h-0.5v2.20h0.5v0.8h-2.1v-0.8h0.5v-2.20h-0.5z" fill="#d83a48"/>
<rect x="91.90" y="283.90" width="1.8" height="2.0" fill="#d83a48" fill-opacity="0.85"/>
<path d="M96.19,286.00h2.1v0.8h-0.5v2.20h0.5v0.8h-2.1v-0.8h0.5v-2.20h-0.5z" fill="#d83a48"/>
<rect x="96.34" y="286.90" width="1.8" height="2.0" fill="#d83a48" fill-opacity="0.85"/>
<path d="M100.63,288.20h2.1v0.8h-0.5v2.20h0.5v0.8h-2.1v-0.8h0.5v-2.20h-0.5z" fill="#d83a48"/>
<rect x="100.78" y="289.10" width="1.8" height="2.0" fill="#d83a48" fill-opacity="0.85"/>
<path d="M105.07,295.10h2.1v0.8h-0.5v2.20h0.5v0.8h-2.1v-0.8h0.5v-2.20h-0.5z" fill="#d83a48"/>
<rect x="105.22" y="296.00" width="1.8" height="2.0" fill="#d83a48" fill-opacity="0.85"/>
<path d="M109.51,297.70h2.1v0.8h-0.5v2.20h0.5v0.8h-2.1v-0.8h0.5v-2.20h-0.5z" fill="#d83a48"/>
<rect x="109.66" y="298.60" width="1.8" height="2.0" fill="#d83a48" fill-opacity="0.85"/>
<path d="M113.95,297.70h2.1v0.8h-0.5v2.20h0.5v0.8h-2.1v-0.8h0.5v-2.20h-0.5z" fill="#d83a48"/>
<rect x="114.10" y="298.60" width="1.8" height="2.0" fill="#d83a48" fill-opacity="0.85"/>
<path d="M118.39,297.70h2.1v0.8h-0.5v2.20h0.5v0.8h-2.1v-0.8h0.5v-2.20h-0.5z" fill="#d83a48"/>
<rect x="118.54" y="298.60" width="1.8" height="2.0" fill="#d83a48" fill-opacity="0.85"/>
<path d="M122.83,297.70h2.1v0.8h-0.5v2.20h0.5v0.8h-2.1v-0.8h0.5v-2.20h-0.5z" fill="#d83a48"/>
<rect x="122.98" y="298.60" width="1.8" height="2.0" fill="#d83a48" fill-opacity="0.85"/>
<path d="M127.27,298.30h2.1v0.8h-0.5v2.20h0.5v0.8h-2.1v-0.8h0.5v-2.20h-0.5z" fill="#d83a48"/>
<rect x="127.42" y="299.20" width="1.8" height="2.0" fill="#d83a48" fill-opacity="0.85"/>
<path d="M131.71,299.50h2.1v0.8h-0.5v2.20h0.5v0.8h-2.1v-0.8h0.5v-2.20h-0.5z" fill="#d83a48"/>
<rect x="131.86" y="300.40" width="1.8" height="2.0" fill="#d83a48" fill-opacity="0.85"/>
<path d="M136.15,300.10h2.1v0.8h-0.5v2.20h0.5v0.8h-2.1v-0.8h0.5v-2.20h-0.5z" fill="#d83a48"/>
<rect x="136.30" y="301.00" width="1.8" height="2.0" fill="#d83a48" fill-opacity="0.85"/>
<path d="M140.59,300.90h2.1v0.8h-0.5v2.20h0.5v0.8h-2.1v-0.8h0.5v-2.20h-0.5z" fill="#d83a48"/>
<rect x="140.74" y="301.80" width="1.8" height="2.0" fill="#d83a48" fill-opacity="0.85"/>
<path d="M145.03,300.90h2.1v0.8h-0.5v2.20h0.5v0.8h-2.1v-0.8h0.5v-2.20h-0.5z" fill="#d83a48"/>
<rect x="145.18" y="301.80" width="1.8" height="2.0" fill="#d83a48" fill-opacity="0.85"/>
<path d="M149.47,301.80h2.1v0.8h-0.5v2.20h0.5v0.8h-2.1v-0.8h0.5v-2.20h-0.5z" fill="#d83a48"/>
<rect x="149.62" y="302.70" width="1.8" height="2.0" fill="#d83a48" fill-opacity="0.85"/>
<path d="M153.91,302.50h2.1v0.8h-0.5v2.20h0.5v0.8h-2.1v-0.8h0.5v-2.20h-0.5z" fill="#d83a48"/>
<rect x="154.06" y="303.40" width="1.8" height="2.0" fill="#d83a48" fill-opacity="0.85"/>
<path d="M158.35,303.40h2.1v0.8h-0.5v2.20h0.5v0.8h-2.1v-0.8h0.5v-2.20h-0.5z" fill="#d83a48"/>
<rect x="158.50" y="304.30" width="1.8" height="2.0" fill="#d83a48" fill-opacity="0.85"/>
<path d="M162.79,303.40h2.1v0.8h-0.5v2.20h0.5v0.8h-2.1v-0.8h0.5v-2.20h-0.5z" fill="#d83a48"/>
<rect x="162.94" y="304.30" width="1.8" height="2.0" fill="#d83a48" fill-opacity="0.85"/>
<path d="M167.23,304.50h2.1v0.8h-0.5v2.20h0.5v0.8h-2.1v-0.8h0.5v-2.20h-0.5z" fill="#d83a48"/>
<rect x="167.38" y="305.40" width="1.8" height="2.0" fill="#d83a48" fill-opacity="0.85"/>
<path d="M171.67,305.10h2.1v0.8h-0.5v2.20h0.5v0.8h-2.1v-0.8h0.5v-2.20h-0.5z" fill="#d83a48"/>
<rect x="171.82" y="306.00" width="1.8" height="2.0" fill="#d83a48" fill-opacity="0.85"/>
<path d="M176.11,304.70h2.1v0.8h-0.5v2.20h0.5v0.8h-2.1v-0.8h0.5v-2.20h-0.5z" fill="#d83a48"/>
<rect x="176.26" y="305.60" width="1.8" height="2.0" fill="#d83a48" fill-opacity="0.85"/>
<path d="M180.55,305.40h2.1v0.8h-0.5v2.20h0.5v0.8h-2.1v-0.8h0.5v-2.20h-0.5z" fill="#d83a48"/>
<rect x="180.70" y="306.30" width="1.8" height="2.0" fill="#d83a48" fill-opacity="0.85"/>
<path d="M184.99,305.60h2.1v0.8h-0.5v2.20h0.5v0.8h-2.1v-0.8h0.5v-2.20h-0.5z" fill="#d83a48"/>
<rect x="185.14" y="306.50" width="1.8" height="2.0" fill="#d83a48" fill-opacity="0.85"/>
<path d="M189.43,306.00h2.1v0.8h-0.5v2.20h0.5v0.8h-2.1v-0.8h0.5v-2.20h-0.5z" fill="#d83a48"/>
<rect x="189.58" y="306.90" width="1.8" height="2.0" fill="#d83a48" fill-opacity="0.85"/>
<rect x="60.00" y="402.90" width="1.2" height="93.40" fill="#8a8a8a"/>
<text x="60.60" y="397.90" font-size="6.6" font-weight="bold" fill="#222" text-anchor="middle" >a</text>
<rect x="73.40" y="402.90" width="1.2" height="93.40" fill="#8a8a8a"/>
<text x="74.00" y="397.90" font-size="6.6" font-weight="bold" fill="#222" text-anchor="middle" >b</text>
<rect x="95.70" y="402.90" width="1.2" height="93.40" fill="#8a8a8a"/>
<text x="96.30" y="397.90" font-size="6.6" font-weight="bold" fill="#222" text-anchor="middle" >c</text>
<rect x="167.00" y="402.90" width="1.2" height="93.40" fill="#8a8a8a"/>
<text x="167.60" y="397.90" font-size="6.6" font-weight="bold" fill="#222" text-anchor="middle" >d</text>
<rect x="50.95" y="402.40" width="1.5" height="94.40" fill="#111"/>
<rect x="50.95" y="495.55" width="150.20" height="1.5" fill="#111"/>
<rect x="46.90" y="495.70" width="4.8" height="1.2" fill="#111"/>
<text x="46.10" y="498.50" font-size="6.4" font-weight="bold" fill="#111" text-anchor="end" textLength="10.30" lengthAdjust="spacingAndGlyphs" >6.0</text>
<rect x="46.90" y="472.35" width="4.8" height="1.2" fill="#111"/>
<text x="46.10" y="475.15" font-size="6.4" font-weight="bold" fill="#111" text-anchor="end" textLength="10.30" lengthAdjust="spacingAndGlyphs" >6.5</text>
<rect x="46.90" y="449.00" width="4.8" height="1.2" fill="#111"/>
<text x="46.10" y="451.80" font-size="6.4" font-weight="bold" fill="#111" text-anchor="end" textLength="10.30" lengthAdjust="spacingAndGlyphs" >7.0</text>
<rect x="46.90" y="425.65" width="4.8" height="1.2" fill="#111"/>
<text x="46.10" y="428.45" font-size="6.4" font-weight="bold" fill="#111" text-anchor="end" textLength="10.30" lengthAdjust="spacingAndGlyphs" >7.5</text>
<rect x="46.90" y="402.30" width="4.8" height="1.2" fill="#111"/>
<text x="46.10" y="405.10" font-size="6.4" font-weight="bold" fill="#111" text-anchor="end" textLength="10.30" lengthAdjust="spacingAndGlyphs" >8.0</text>
<rect x="51.10" y="496.30" width="1.2" height="4" fill="#111"/>
<text x="51.70" y="509.00" font-size="7.3" font-weight="bold" fill="#111" text-anchor="middle" >0</text>
<rect x="80.84" y="496.30" width="1.2" height="4" fill="#111"/>
<text x="81.44" y="509.00" font-size="7.3" font-weight="bold" fill="#111" text-anchor="middle" >500</text>
<rect x="110.58" y="496.30" width="1.2" height="4" fill="#111"/>
<text x="111.18" y="509.00" font-size="7.3" font-weight="bold" fill="#111" text-anchor="middle" >1000</text>
<rect x="140.32" y="496.30" width="1.2" height="4" fill="#111"/>
<text x="140.92" y="509.00" font-size="7.3" font-weight="bold" fill="#111" text-anchor="middle" >1500</text>
<rect x="170.06" y="496.30" width="1.2" height="4" fill="#111"/>
<text x="170.66" y="509.00" font-size="7.3" font-weight="bold" fill="#111" text-anchor="middle" >2000</text>
<rect x="199.80" y="496.30" width="1.2" height="4" fill="#111"/>
<text x="200.40" y="509.00" font-size="7.3" font-weight="bold" fill="#111" text-anchor="middle" >2500</text>
<text x="126.05" y="519.60" font-size="7.6" font-weight="bold" fill="#111" text-anchor="middle" textLength="32.50" lengthAdjust="spacingAndGlyphs" >Seconds</text>
<text transform="translate(32.50,449.60) rotate(-90)" font-size="7.6" font-weight="bold" fill="#111" text-anchor="middle">pHi</text>
<text x="66.16" y="380.20" font-size="9.5" font-weight="bold" fill="#111" textLength="117.21" lengthAdjust="spacingAndGlyphs" >MDA-MB-231 Lactate Flux</text>
<path d="M50.60,471.00h2.2v0.8h-0.6v2.20h0.6v0.8h-2.2v-0.8h0.6v-2.20h-0.6z" fill="#2a2a2a"/>
<rect x="50.90" y="472.10" width="1.6" height="1.6" fill="#2a2a2a" fill-opacity="0.8"/>
<path d="M55.07,470.80h2.2v0.8h-0.6v2.20h0.6v0.8h-2.2v-0.8h0.6v-2.20h-0.6z" fill="#2a2a2a"/>
<rect x="55.37" y="471.90" width="1.6" height="1.6" fill="#2a2a2a" fill-opacity="0.8"/>
<path d="M59.53,469.90h2.2v0.8h-0.6v2.20h0.6v0.8h-2.2v-0.8h0.6v-2.20h-0.6z" fill="#2a2a2a"/>
<rect x="59.83" y="471.00" width="1.6" height="1.6" fill="#2a2a2a" fill-opacity="0.8"/>
<path d="M64.00,450.70h2.2v0.8h-0.6v2.20h0.6v0.8h-2.2v-0.8h0.6v-2.20h-0.6z" fill="#2a2a2a"/>
<rect x="64.30" y="451.80" width="1.6" height="1.6" fill="#2a2a2a" fill-opacity="0.8"/>
<path d="M68.47,437.30h2.2v0.8h-0.6v2.20h0.6v0.8h-2.2v-0.8h0.6v-2.20h-0.6z" fill="#2a2a2a"/>
<rect x="68.77" y="438.40" width="1.6" height="1.6" fill="#2a2a2a" fill-opacity="0.8"/>
<path d="M72.94,435.00h2.2v0.8h-0.6v2.20h0.6v0.8h-2.2v-0.8h0.6v-2.20h-0.6z" fill="#2a2a2a"/>
<rect x="73.23" y="436.10" width="1.6" height="1.6" fill="#2a2a2a" fill-opacity="0.8"/>
<path d="M77.40,437.30h2.2v0.8h-0.6v2.20h0.6v0.8h-2.2v-0.8h0.6v-2.20h-0.6z" fill="#2a2a2a"/>
<rect x="77.70" y="438.40" width="1.6" height="1.6" fill="#2a2a2a" fill-opacity="0.8"/>
<path d="M81.87,463.90h2.2v0.8h-0.6v2.20h0.6v0.8h-2.2v-0.8h0.6v-2.20h-0.6z" fill="#2a2a2a"/>
<rect x="82.17" y="465.00" width="1.6" height="1.6" fill="#2a2a2a" fill-opacity="0.8"/>
<path d="M86.34,468.70h2.2v0.8h-0.6v2.20h0.6v0.8h-2.2v-0.8h0.6v-2.20h-0.6z" fill="#2a2a2a"/>
<rect x="86.64" y="469.80" width="1.6" height="1.6" fill="#2a2a2a" fill-opacity="0.8"/>
<path d="M90.80,469.70h2.2v0.8h-0.6v2.20h0.6v0.8h-2.2v-0.8h0.6v-2.20h-0.6z" fill="#2a2a2a"/>
<rect x="91.10" y="470.80" width="1.6" height="1.6" fill="#2a2a2a" fill-opacity="0.8"/>
<path d="M95.27,468.90h2.2v0.8h-0.6v2.20h0.6v0.8h-2.2v-0.8h0.6v-2.20h-0.6z" fill="#2a2a2a"/>
<rect x="95.57" y="470.00" width="1.6" height="1.6" fill="#2a2a2a" fill-opacity="0.8"/>
<path d="M99.74,468.70h2.2v0.8h-0.6v2.20h0.6v0.8h-2.2v-0.8h0.6v-2.20h-0.6z" fill="#2a2a2a"/>
<rect x="100.04" y="469.80" width="1.6" height="1.6" fill="#2a2a2a" fill-opacity="0.8"/>
<path d="M104.20,469.70h2.2v0.8h-0.6v2.20h0.6v0.8h-2.2v-0.8h0.6v-2.20h-0.6z" fill="#2a2a2a"/>
<rect x="104.50" y="470.80" width="1.6" height="1.6" fill="#2a2a2a" fill-opacity="0.8"/>
<path d="M108.67,469.30h2.2v0.8h-0.6v2.20h0.6v0.8h-2.2v-0.8h0.6v-2.20h-0.6z" fill="#2a2a2a"/>
<rect x="108.97" y="470.40" width="1.6" height="1.6" fill="#2a2a2a" fill-opacity="0.8"/>
<path d="M113.14,469.30h2.2v0.8h-0.6v2.20h0.6v0.8h-2.2v-0.8h0.6v-2.20h-0.6z" fill="#2a2a2a"/>
<rect x="113.44" y="470.40" width="1.6" height="1.6" fill="#2a2a2a" fill-opacity="0.8"/>
<path d="M117.61,468.40h2.2v0.8h-0.6v2.20h0.6v0.8h-2.2v-0.8h0.6v-2.20h-0.6z" fill="#2a2a2a"/>
<rect x="117.91" y="469.50" width="1.6" height="1.6" fill="#2a2a2a" fill-opacity="0.8"/>
<path d="M122.07,468.00h2.2v0.8h-0.6v2.20h0.6v0.8h-2.2v-0.8h0.6v-2.20h-0.6z" fill="#2a2a2a"/>
<rect x="122.37" y="469.10" width="1.6" height="1.6" fill="#2a2a2a" fill-opacity="0.8"/>
<path d="M126.54,467.60h2.2v0.8h-0.6v2.20h0.6v0.8h-2.2v-0.8h0.6v-2.20h-0.6z" fill="#2a2a2a"/>
<rect x="126.84" y="468.70" width="1.6" height="1.6" fill="#2a2a2a" fill-opacity="0.8"/>
<path d="M131.01,467.10h2.2v0.8h-0.6v2.20h0.6v0.8h-2.2v-0.8h0.6v-2.20h-0.6z" fill="#2a2a2a"/>
<rect x="131.31" y="468.20" width="1.6" height="1.6" fill="#2a2a2a" fill-opacity="0.8"/>
<path d="M135.47,466.40h2.2v0.8h-0.6v2.20h0.6v0.8h-2.2v-0.8h0.6v-2.20h-0.6z" fill="#2a2a2a"/>
<rect x="135.77" y="467.50" width="1.6" height="1.6" fill="#2a2a2a" fill-opacity="0.8"/>
<path d="M139.94,466.40h2.2v0.8h-0.6v2.20h0.6v0.8h-2.2v-0.8h0.6v-2.20h-0.6z" fill="#2a2a2a"/>
<rect x="140.24" y="467.50" width="1.6" height="1.6" fill="#2a2a2a" fill-opacity="0.8"/>
<path d="M144.41,465.50h2.2v0.8h-0.6v2.20h0.6v0.8h-2.2v-0.8h0.6v-2.20h-0.6z" fill="#2a2a2a"/>
<rect x="144.71" y="466.60" width="1.6" height="1.6" fill="#2a2a2a" fill-opacity="0.8"/>
<path d="M148.87,465.10h2.2v0.8h-0.6v2.20h0.6v0.8h-2.2v-0.8h0.6v-2.20h-0.6z" fill="#2a2a2a"/>
<rect x="149.17" y="466.20" width="1.6" height="1.6" fill="#2a2a2a" fill-opacity="0.8"/>
<path d="M153.34,464.60h2.2v0.8h-0.6v2.20h0.6v0.8h-2.2v-0.8h0.6v-2.20h-0.6z" fill="#2a2a2a"/>
<rect x="153.64" y="465.70" width="1.6" height="1.6" fill="#2a2a2a" fill-opacity="0.8"/>
<path d="M157.81,464.10h2.2v0.8h-0.6v2.20h0.6v0.8h-2.2v-0.8h0.6v-2.20h-0.6z" fill="#2a2a2a"/>
<rect x="158.11" y="465.20" width="1.6" height="1.6" fill="#2a2a2a" fill-opacity="0.8"/>
<path d="M162.28,463.60h2.2v0.8h-0.6v2.20h0.6v0.8h-2.2v-0.8h0.6v-2.20h-0.6z" fill="#2a2a2a"/>
<rect x="162.57" y="464.70" width="1.6" height="1.6" fill="#2a2a2a" fill-opacity="0.8"/>
<path d="M166.74,463.10h2.2v0.8h-0.6v2.20h0.6v0.8h-2.2v-0.8h0.6v-2.20h-0.6z" fill="#2a2a2a"/>
<rect x="167.04" y="464.20" width="1.6" height="1.6" fill="#2a2a2a" fill-opacity="0.8"/>
<path d="M171.21,460.70h2.2v0.8h-0.6v2.20h0.6v0.8h-2.2v-0.8h0.6v-2.20h-0.6z" fill="#2a2a2a"/>
<rect x="171.51" y="461.80" width="1.6" height="1.6" fill="#2a2a2a" fill-opacity="0.8"/>
<path d="M175.68,430.80h2.2v0.8h-0.6v2.20h0.6v0.8h-2.2v-0.8h0.6v-2.20h-0.6z" fill="#2a2a2a"/>
<rect x="175.98" y="431.90" width="1.6" height="1.6" fill="#2a2a2a" fill-opacity="0.8"/>
<path d="M180.14,421.10h2.2v0.8h-0.6v2.20h0.6v0.8h-2.2v-0.8h0.6v-2.20h-0.6z" fill="#2a2a2a"/>
<rect x="180.44" y="422.20" width="1.6" height="1.6" fill="#2a2a2a" fill-opacity="0.8"/>
<path d="M184.61,419.40h2.2v0.8h-0.6v2.20h0.6v0.8h-2.2v-0.8h0.6v-2.20h-0.6z" fill="#2a2a2a"/>
<rect x="184.91" y="420.50" width="1.6" height="1.6" fill="#2a2a2a" fill-opacity="0.8"/>
<path d="M50.65,460.60h2.1v0.8h-0.5v2.20h0.5v0.8h-2.1v-0.8h0.5v-2.20h-0.5z" fill="#d83a48"/>
<rect x="50.80" y="461.50" width="1.8" height="2.0" fill="#d83a48" fill-opacity="0.85"/>
<path d="M55.12,460.60h2.1v0.8h-0.5v2.20h0.5v0.8h-2.1v-0.8h0.5v-2.20h-0.5z" fill="#d83a48"/>
<rect x="55.27" y="461.50" width="1.8" height="2.0" fill="#d83a48" fill-opacity="0.85"/>
<path d="M59.58,460.40h2.1v0.8h-0.5v2.20h0.5v0.8h-2.1v-0.8h0.5v-2.20h-0.5z" fill="#d83a48"/>
<rect x="59.73" y="461.30" width="1.8" height="2.0" fill="#d83a48" fill-opacity="0.85"/>
<path d="M64.05,441.50h2.1v0.8h-0.5v2.20h0.5v0.8h-2.1v-0.8h0.5v-2.20h-0.5z" fill="#d83a48"/>
<rect x="64.20" y="442.40" width="1.8" height="2.0" fill="#d83a48" fill-opacity="0.85"/>
<path d="M68.52,427.30h2.1v0.8h-0.5v2.20h0.5v0.8h-2.1v-0.8h0.5v-2.20h-0.5z" fill="#d83a48"/>
<rect x="68.67" y="428.20" width="1.8" height="2.0" fill="#d83a48" fill-opacity="0.85"/>
<path d="M72.98,423.20h2.1v0.8h-0.5v2.20h0.5v0.8h-2.1v-0.8h0.5v-2.20h-0.5z" fill="#d83a48"/>
<rect x="73.13" y="424.10" width="1.8" height="2.0" fill="#d83a48" fill-opacity="0.85"/>
<path d="M77.45,423.70h2.1v0.8h-0.5v2.20h0.5v0.8h-2.1v-0.8h0.5v-2.20h-0.5z" fill="#d83a48"/>
<rect x="77.60" y="424.60" width="1.8" height="2.0" fill="#d83a48" fill-opacity="0.85"/>
<path d="M81.92,453.70h2.1v0.8h-0.5v2.20h0.5v0.8h-2.1v-0.8h0.5v-2.20h-0.5z" fill="#d83a48"/>
<rect x="82.07" y="454.60" width="1.8" height="2.0" fill="#d83a48" fill-opacity="0.85"/>
<path d="M86.39,460.80h2.1v0.8h-0.5v2.20h0.5v0.8h-2.1v-0.8h0.5v-2.20h-0.5z" fill="#d83a48"/>
<rect x="86.54" y="461.70" width="1.8" height="2.0" fill="#d83a48" fill-opacity="0.85"/>
<path d="M90.85,461.70h2.1v0.8h-0.5v2.20h0.5v0.8h-2.1v-0.8h0.5v-2.20h-0.5z" fill="#d83a48"/>
<rect x="91.00" y="462.60" width="1.8" height="2.0" fill="#d83a48" fill-opacity="0.85"/>
<path d="M95.32,461.20h2.1v0.8h-0.5v2.20h0.5v0.8h-2.1v-0.8h0.5v-2.20h-0.5z" fill="#d83a48"/>
<rect x="95.47" y="462.10" width="1.8" height="2.0" fill="#d83a48" fill-opacity="0.85"/>
<path d="M99.79,462.60h2.1v0.8h-0.5v2.20h0.5v0.8h-2.1v-0.8h0.5v-2.20h-0.5z" fill="#d83a48"/>
<rect x="99.94" y="463.50" width="1.8" height="2.0" fill="#d83a48" fill-opacity="0.85"/>
<path d="M104.25,468.00h2.1v0.8h-0.5v2.20h0.5v0.8h-2.1v-0.8h0.5v-2.20h-0.5z" fill="#d83a48"/>
<rect x="104.40" y="468.90" width="1.8" height="2.0" fill="#d83a48" fill-opacity="0.85"/>
<path d="M108.72,468.70h2.1v0.8h-0.5v2.20h0.5v0.8h-2.1v-0.8h0.5v-2.20h-0.5z" fill="#d83a48"/>
<rect x="108.87" y="469.60" width="1.8" height="2.0" fill="#d83a48" fill-opacity="0.85"/>
<path d="M113.19,470.00h2.1v0.8h-0.5v2.20h0.5v0.8h-2.1v-0.8h0.5v-2.20h-0.5z" fill="#d83a48"/>
<rect x="113.34" y="470.90" width="1.8" height="2.0" fill="#d83a48" fill-opacity="0.85"/>
<path d="M117.66,471.00h2.1v0.8h-0.5v2.20h0.5v0.8h-2.1v-0.8h0.5v-2.20h-0.5z" fill="#d83a48"/>
<rect x="117.80" y="471.90" width="1.8" height="2.0" fill="#d83a48" fill-opacity="0.85"/>
<path d="M122.12,471.10h2.1v0.8h-0.5v2.20h0.5v0.8h-2.1v-0.8h0.5v-2.20h-0.5z" fill="#d83a48"/>
<rect x="122.27" y="472.00" width="1.8" height="2.0" fill="#d83a48" fill-opacity="0.85"/>
<path d="M126.59,471.50h2.1v0.8h-0.5v2.20h0.5v0.8h-2.1v-0.8h0.5v-2.20h-0.5z" fill="#d83a48"/>
<rect x="126.74" y="472.40" width="1.8" height="2.0" fill="#d83a48" fill-opacity="0.85"/>
<path d="M131.06,471.50h2.1v0.8h-0.5v2.20h0.5v0.8h-2.1v-0.8h0.5v-2.20h-0.5z" fill="#d83a48"/>
<rect x="131.21" y="472.40" width="1.8" height="2.0" fill="#d83a48" fill-opacity="0.85"/>
<path d="M135.52,472.30h2.1v0.8h-0.5v2.20h0.5v0.8h-2.1v-0.8h0.5v-2.20h-0.5z" fill="#d83a48"/>
<rect x="135.67" y="473.20" width="1.8" height="2.0" fill="#d83a48" fill-opacity="0.85"/>
<path d="M139.99,472.30h2.1v0.8h-0.5v2.20h0.5v0.8h-2.1v-0.8h0.5v-2.20h-0.5z" fill="#d83a48"/>
<rect x="140.14" y="473.20" width="1.8" height="2.0" fill="#d83a48" fill-opacity="0.85"/>
<path d="M144.46,471.90h2.1v0.8h-0.5v2.20h0.5v0.8h-2.1v-0.8h0.5v-2.20h-0.5z" fill="#d83a48"/>
<rect x="144.61" y="472.80" width="1.8" height="2.0" fill="#d83a48" fill-opacity="0.85"/>
<path d="M148.92,472.10h2.1v0.8h-0.5v2.20h0.5v0.8h-2.1v-0.8h0.5v-2.20h-0.5z" fill="#d83a48"/>
<rect x="149.07" y="473.00" width="1.8" height="2.0" fill="#d83a48" fill-opacity="0.85"/>
<path d="M153.39,472.30h2.1v0.8h-0.5v2.20h0.5v0.8h-2.1v-0.8h0.5v-2.20h-0.5z" fill="#d83a48"/>
<rect x="153.54" y="473.20" width="1.8" height="2.0" fill="#d83a48" fill-opacity="0.85"/>
<path d="M157.86,472.50h2.1v0.8h-0.5v2.20h0.5v0.8h-2.1v-0.8h0.5v-2.20h-0.5z" fill="#d83a48"/>
<rect x="158.01" y="473.40" width="1.8" height="2.0" fill="#d83a48" fill-opacity="0.85"/>
<path d="M162.32,472.60h2.1v0.8h-0.5v2.20h0.5v0.8h-2.1v-0.8h0.5v-2.20h-0.5z" fill="#d83a48"/>
<rect x="162.47" y="473.50" width="1.8" height="2.0" fill="#d83a48" fill-opacity="0.85"/>
<path d="M166.79,472.70h2.1v0.8h-0.5v2.20h0.5v0.8h-2.1v-0.8h0.5v-2.20h-0.5z" fill="#d83a48"/>
<rect x="166.94" y="473.60" width="1.8" height="2.0" fill="#d83a48" fill-opacity="0.85"/>
<path d="M171.26,472.40h2.1v0.8h-0.5v2.20h0.5v0.8h-2.1v-0.8h0.5v-2.20h-0.5z" fill="#d83a48"/>
<rect x="171.41" y="473.30" width="1.8" height="2.0" fill="#d83a48" fill-opacity="0.85"/>
<path d="M175.73,472.10h2.1v0.8h-0.5v2.20h0.5v0.8h-2.1v-0.8h0.5v-2.20h-0.5z" fill="#d83a48"/>
<rect x="175.88" y="473.00" width="1.8" height="2.0" fill="#d83a48" fill-opacity="0.85"/>
<path d="M180.19,471.60h2.1v0.8h-0.5v2.20h0.5v0.8h-2.1v-0.8h0.5v-2.20h-0.5z" fill="#d83a48"/>
<rect x="180.34" y="472.50" width="1.8" height="2.0" fill="#d83a48" fill-opacity="0.85"/>
<path d="M184.66,472.10h2.1v0.8h-0.5v2.20h0.5v0.8h-2.1v-0.8h0.5v-2.20h-0.5z" fill="#d83a48"/>
<rect x="184.81" y="473.00" width="1.8" height="2.0" fill="#d83a48" fill-opacity="0.85"/>
<rect x="270.20" y="243.00" width="1.2" height="93.60" fill="#8a8a8a"/>
<text x="270.80" y="238.00" font-size="6.6" font-weight="bold" fill="#222" text-anchor="middle" >a</text>
<rect x="292.60" y="243.00" width="1.2" height="93.60" fill="#8a8a8a"/>
<text x="293.20" y="238.00" font-size="6.6" font-weight="bold" fill="#222" text-anchor="middle" >b</text>
<rect x="314.90" y="243.00" width="1.2" height="93.60" fill="#8a8a8a"/>
<text x="315.50" y="238.00" font-size="6.6" font-weight="bold" fill="#222" text-anchor="middle" >c</text>
<rect x="382.00" y="243.00" width="1.2" height="93.60" fill="#8a8a8a"/>
<text x="382.60" y="238.00" font-size="6.6" font-weight="bold" fill="#222" text-anchor="middle" >d</text>
<rect x="265.05" y="242.50" width="1.5" height="94.60" fill="#111"/>
<rect x="265.05" y="335.85" width="150.90" height="1.5" fill="#111"/>
<rect x="261.00" y="336.00" width="4.8" height="1.2" fill="#111"/>
<text x="260.20" y="338.80" font-size="6.4" font-weight="bold" fill="#111" text-anchor="end" textLength="10.30" lengthAdjust="spacingAndGlyphs" >6.0</text>
<rect x="261.00" y="312.60" width="4.8" height="1.2" fill="#111"/>
<text x="260.20" y="315.40" font-size="6.4" font-weight="bold" fill="#111" text-anchor="end" textLength="10.30" lengthAdjust="spacingAndGlyphs" >6.5</text>
<rect x="261.00" y="289.20" width="4.8" height="1.2" fill="#111"/>
<text x="260.20" y="292.00" font-size="6.4" font-weight="bold" fill="#111" text-anchor="end" textLength="10.30" lengthAdjust="spacingAndGlyphs" >7.0</text>
<rect x="261.00" y="265.80" width="4.8" height="1.2" fill="#111"/>
<text x="260.20" y="268.60" font-size="6.4" font-weight="bold" fill="#111" text-anchor="end" textLength="10.30" lengthAdjust="spacingAndGlyphs" >7.5</text>
<rect x="261.00" y="242.40" width="4.8" height="1.2" fill="#111"/>
<text x="260.20" y="245.20" font-size="6.4" font-weight="bold" fill="#111" text-anchor="end" textLength="10.30" lengthAdjust="spacingAndGlyphs" >8.0</text>
<rect x="265.20" y="336.60" width="1.2" height="4" fill="#111"/>
<text x="265.80" y="349.30" font-size="7.3" font-weight="bold" fill="#111" text-anchor="middle" >0</text>
<rect x="295.08" y="336.60" width="1.2" height="4" fill="#111"/>
<text x="295.68" y="349.30" font-size="7.3" font-weight="bold" fill="#111" text-anchor="middle" >500</text>
<rect x="324.96" y="336.60" width="1.2" height="4" fill="#111"/>
<text x="325.56" y="349.30" font-size="7.3" font-weight="bold" fill="#111" text-anchor="middle" >1000</text>
<rect x="354.84" y="336.60" width="1.2" height="4" fill="#111"/>
<text x="355.44" y="349.30" font-size="7.3" font-weight="bold" fill="#111" text-anchor="middle" >1500</text>
<rect x="384.72" y="336.60" width="1.2" height="4" fill="#111"/>
<text x="385.32" y="349.30" font-size="7.3" font-weight="bold" fill="#111" text-anchor="middle" >2000</text>
<rect x="414.60" y="336.60" width="1.2" height="4" fill="#111"/>
<text x="415.20" y="349.30" font-size="7.3" font-weight="bold" fill="#111" text-anchor="middle" >2500</text>
<text transform="translate(246.60,289.80) rotate(-90)" font-size="7.6" font-weight="bold" fill="#111" text-anchor="middle">pHi</text>
<text x="297.87" y="224.70" font-size="9.5" font-weight="bold" fill="#111" textLength="84.50" lengthAdjust="spacingAndGlyphs" >MCF7 Acetate Flux</text>
<path d="M264.80,305.00h2.2v0.8h-0.6v2.20h0.6v0.8h-2.2v-0.8h0.6v-2.20h-0.6z" fill="#2a2a2a"/>
<rect x="265.10" y="306.10" width="1.6" height="1.6" fill="#2a2a2a" fill-opacity="0.8"/>
<path d="M269.27,303.60h2.2v0.8h-0.6v2.20h0.6v0.8h-2.2v-0.8h0.6v-2.20h-0.6z" fill="#2a2a2a"/>
<rect x="269.57" y="304.70" width="1.6" height="1.6" fill="#2a2a2a" fill-opacity="0.8"/>
<path d="M273.74,301.50h2.2v0.8h-0.6v2.20h0.6v0.8h-2.2v-0.8h0.6v-2.20h-0.6z" fill="#2a2a2a"/>
<rect x="274.04" y="302.60" width="1.6" height="1.6" fill="#2a2a2a" fill-opacity="0.8"/>
<path d="M278.21,280.40h2.2v0.8h-0.6v2.20h0.6v0.8h-2.2v-0.8h0.6v-2.20h-0.6z" fill="#2a2a2a"/>
<rect x="278.51" y="281.50" width="1.6" height="1.6" fill="#2a2a2a" fill-opacity="0.8"/>
<path d="M282.68,268.50h2.2v0.8h-0.6v2.20h0.6v0.8h-2.2v-0.8h0.6v-2.20h-0.6z" fill="#2a2a2a"/>
<rect x="282.98" y="269.60" width="1.6" height="1.6" fill="#2a2a2a" fill-opacity="0.8"/>
<path d="M287.15,264.30h2.2v0.8h-0.6v2.20h0.6v0.8h-2.2v-0.8h0.6v-2.20h-0.6z" fill="#2a2a2a"/>
<rect x="287.45" y="265.40" width="1.6" height="1.6" fill="#2a2a2a" fill-opacity="0.8"/>
<path d="M291.62,263.60h2.2v0.8h-0.6v2.20h0.6v0.8h-2.2v-0.8h0.6v-2.20h-0.6z" fill="#2a2a2a"/>
<rect x="291.92" y="264.70" width="1.6" height="1.6" fill="#2a2a2a" fill-opacity="0.8"/>
<path d="M296.09,268.80h2.2v0.8h-0.6v2.20h0.6v0.8h-2.2v-0.8h0.6v-2.20h-0.6z" fill="#2a2a2a"/>
<rect x="296.39" y="269.90" width="1.6" height="1.6" fill="#2a2a2a" fill-opacity="0.8"/>
<path d="M300.56,295.40h2.2v0.8h-0.6v2.20h0.6v0.8h-2.2v-0.8h0.6v-2.20h-0.6z" fill="#2a2a2a"/>
<rect x="300.86" y="296.50" width="1.6" height="1.6" fill="#2a2a2a" fill-opacity="0.8"/>
<path d="M305.03,301.50h2.2v0.8h-0.6v2.20h0.6v0.8h-2.2v-0.8h0.6v-2.20h-0.6z" fill="#2a2a2a"/>
<rect x="305.33" y="302.60" width="1.6" height="1.6" fill="#2a2a2a" fill-opacity="0.8"/>
<path d="M309.50,301.50h2.2v0.8h-0.6v2.20h0.6v0.8h-2.2v-0.8h0.6v-2.20h-0.6z" fill="#2a2a2a"/>
<rect x="309.80" y="302.60" width="1.6" height="1.6" fill="#2a2a2a" fill-opacity="0.8"/>
<path d="M313.97,301.50h2.2v0.8h-0.6v2.20h0.6v0.8h-2.2v-0.8h0.6v-2.20h-0.6z" fill="#2a2a2a"/>
<rect x="314.27" y="302.60" width="1.6" height="1.6" fill="#2a2a2a" fill-opacity="0.8"/>
<path d="M318.44,301.50h2.2v0.8h-0.6v2.20h0.6v0.8h-2.2v-0.8h0.6v-2.20h-0.6z" fill="#2a2a2a"/>
<rect x="318.74" y="302.60" width="1.6" height="1.6" fill="#2a2a2a" fill-opacity="0.8"/>
<path d="M322.91,301.90h2.2v0.8h-0.6v2.20h0.6v0.8h-2.2v-0.8h0.6v-2.20h-0.6z" fill="#2a2a2a"/>
<rect x="323.21" y="303.00" width="1.6" height="1.6" fill="#2a2a2a" fill-opacity="0.8"/>
<path d="M327.38,301.90h2.2v0.8h-0.6v2.20h0.6v0.8h-2.2v-0.8h0.6v-2.20h-0.6z" fill="#2a2a2a"/>
<rect x="327.68" y="303.00" width="1.6" height="1.6" fill="#2a2a2a" fill-opacity="0.8"/>
<path d="M331.85,301.50h2.2v0.8h-0.6v2.20h0.6v0.8h-2.2v-0.8h0.6v-2.20h-0.6z" fill="#2a2a2a"/>
<rect x="332.15" y="302.60" width="1.6" height="1.6" fill="#2a2a2a" fill-opacity="0.8"/>
<path d="M336.32,301.50h2.2v0.8h-0.6v2.20h0.6v0.8h-2.2v-0.8h0.6v-2.20h-0.6z" fill="#2a2a2a"/>
<rect x="336.62" y="302.60" width="1.6" height="1.6" fill="#2a2a2a" fill-opacity="0.8"/>
<path d="M340.79,301.20h2.2v0.8h-0.6v2.20h0.6v0.8h-2.2v-0.8h0.6v-2.20h-0.6z" fill="#2a2a2a"/>
<rect x="341.09" y="302.30" width="1.6" height="1.6" fill="#2a2a2a" fill-opacity="0.8"/>
<path d="M345.26,301.20h2.2v0.8h-0.6v2.20h0.6v0.8h-2.2v-0.8h0.6v-2.20h-0.6z" fill="#2a2a2a"/>
<rect x="345.56" y="302.30" width="1.6" height="1.6" fill="#2a2a2a" fill-opacity="0.8"/>
<path d="M349.73,300.90h2.2v0.8h-0.6v2.20h0.6v0.8h-2.2v-0.8h0.6v-2.20h-0.6z" fill="#2a2a2a"/>
<rect x="350.03" y="302.00" width="1.6" height="1.6" fill="#2a2a2a" fill-opacity="0.8"/>
<path d="M354.20,300.60h2.2v0.8h-0.6v2.20h0.6v0.8h-2.2v-0.8h0.6v-2.20h-0.6z" fill="#2a2a2a"/>
<rect x="354.50" y="301.70" width="1.6" height="1.6" fill="#2a2a2a" fill-opacity="0.8"/>
<path d="M358.67,300.20h2.2v0.8h-0.6v2.20h0.6v0.8h-2.2v-0.8h0.6v-2.20h-0.6z" fill="#2a2a2a"/>
<rect x="358.97" y="301.30" width="1.6" height="1.6" fill="#2a2a2a" fill-opacity="0.8"/>
<path d="M363.14,299.90h2.2v0.8h-0.6v2.20h0.6v0.8h-2.2v-0.8h0.6v-2.20h-0.6z" fill="#2a2a2a"/>
<rect x="363.44" y="301.00" width="1.6" height="1.6" fill="#2a2a2a" fill-opacity="0.8"/>
<path d="M367.61,299.60h2.2v0.8h-0.6v2.20h0.6v0.8h-2.2v-0.8h0.6v-2.20h-0.6z" fill="#2a2a2a"/>
<rect x="367.91" y="300.70" width="1.6" height="1.6" fill="#2a2a2a" fill-opacity="0.8"/>
<path d="M372.08,299.30h2.2v0.8h-0.6v2.20h0.6v0.8h-2.2v-0.8h0.6v-2.20h-0.6z" fill="#2a2a2a"/>
<rect x="372.38" y="300.40" width="1.6" height="1.6" fill="#2a2a2a" fill-opacity="0.8"/>
<path d="M376.55,299.10h2.2v0.8h-0.6v2.20h0.6v0.8h-2.2v-0.8h0.6v-2.20h-0.6z" fill="#2a2a2a"/>
<rect x="376.85" y="300.20" width="1.6" height="1.6" fill="#2a2a2a" fill-opacity="0.8"/>
<path d="M381.02,299.10h2.2v0.8h-0.6v2.20h0.6v0.8h-2.2v-0.8h0.6v-2.20h-0.6z" fill="#2a2a2a"/>
<rect x="381.32" y="300.20" width="1.6" height="1.6" fill="#2a2a2a" fill-opacity="0.8"/>
<path d="M385.49,293.70h2.2v0.8h-0.6v2.20h0.6v0.8h-2.2v-0.8h0.6v-2.20h-0.6z" fill="#2a2a2a"/>
<rect x="385.79" y="294.80" width="1.6" height="1.6" fill="#2a2a2a" fill-opacity="0.8"/>
<path d="M389.96,270.20h2.2v0.8h-0.6v2.20h0.6v0.8h-2.2v-0.8h0.6v-2.20h-0.6z" fill="#2a2a2a"/>
<rect x="390.26" y="271.30" width="1.6" height="1.6" fill="#2a2a2a" fill-opacity="0.8"/>
<path d="M394.43,261.70h2.2v0.8h-0.6v2.20h0.6v0.8h-2.2v-0.8h0.6v-2.20h-0.6z" fill="#2a2a2a"/>
<rect x="394.73" y="262.80" width="1.6" height="1.6" fill="#2a2a2a" fill-opacity="0.8"/>
<path d="M264.85,299.10h2.1v0.8h-0.5v2.20h0.5v0.8h-2.1v-0.8h0.5v-2.20h-0.5z" fill="#d83a48"/>
<rect x="265.00" y="300.00" width="1.8" height="2.0" fill="#d83a48" fill-opacity="0.85"/>
<path d="M269.32,299.10h2.1v0.8h-0.5v2.20h0.5v0.8h-2.1v-0.8h0.5v-2.20h-0.5z" fill="#d83a48"/>
<rect x="269.47" y="300.00" width="1.8" height="2.0" fill="#d83a48" fill-opacity="0.85"/>
<path d="M273.79,296.80h2.1v0.8h-0.5v2.20h0.5v0.8h-2.1v-0.8h0.5v-2.20h-0.5z" fill="#d83a48"/>
<rect x="273.94" y="297.70" width="1.8" height="2.0" fill="#d83a48" fill-opacity="0.85"/>
<path d="M278.26,276.20h2.1v0.8h-0.5v2.20h0.5v0.8h-2.1v-0.8h0.5v-2.20h-0.5z" fill="#d83a48"/>
<rect x="278.41" y="277.10" width="1.8" height="2.0" fill="#d83a48" fill-opacity="0.85"/>
<path d="M282.73,264.60h2.1v0.8h-0.5v2.20h0.5v0.8h-2.1v-0.8h0.5v-2.20h-0.5z" fill="#d83a48"/>
<rect x="282.88" y="265.50" width="1.8" height="2.0" fill="#d83a48" fill-opacity="0.85"/>
<path d="M287.20,260.40h2.1v0.8h-0.5v2.20h0.5v0.8h-2.1v-0.8h0.5v-2.20h-0.5z" fill="#d83a48"/>
<rect x="287.35" y="261.30" width="1.8" height="2.0" fill="#d83a48" fill-opacity="0.85"/>
<path d="M291.67,259.40h2.1v0.8h-0.5v2.20h0.5v0.8h-2.1v-0.8h0.5v-2.20h-0.5z" fill="#d83a48"/>
<rect x="291.82" y="260.30" width="1.8" height="2.0" fill="#d83a48" fill-opacity="0.85"/>
<path d="M296.14,268.80h2.1v0.8h-0.5v2.20h0.5v0.8h-2.1v-0.8h0.5v-2.20h-0.5z" fill="#d83a48"/>
<rect x="296.29" y="269.70" width="1.8" height="2.0" fill="#d83a48" fill-opacity="0.85"/>
<path d="M300.61,295.40h2.1v0.8h-0.5v2.20h0.5v0.8h-2.1v-0.8h0.5v-2.20h-0.5z" fill="#d83a48"/>
<rect x="300.76" y="296.30" width="1.8" height="2.0" fill="#d83a48" fill-opacity="0.85"/>
<path d="M305.08,300.10h2.1v0.8h-0.5v2.20h0.5v0.8h-2.1v-0.8h0.5v-2.20h-0.5z" fill="#d83a48"/>
<rect x="305.23" y="301.00" width="1.8" height="2.0" fill="#d83a48" fill-opacity="0.85"/>
<path d="M309.55,300.10h2.1v0.8h-0.5v2.20h0.5v0.8h-2.1v-0.8h0.5v-2.20h-0.5z" fill="#d83a48"/>
<rect x="309.70" y="301.00" width="1.8" height="2.0" fill="#d83a48" fill-opacity="0.85"/>
<path d="M314.02,297.70h2.1v0.8h-0.5v2.20h0.5v0.8h-2.1v-0.8h0.5v-2.20h-0.5z" fill="#d83a48"/>
<rect x="314.17" y="298.60" width="1.8" height="2.0" fill="#d83a48" fill-opacity="0.85"/>
<path d="M318.49,298.60h2.1v0.8h-0.5v2.20h0.5v0.8h-2.1v-0.8h0.5v-2.20h-0.5z" fill="#d83a48"/>
<rect x="318.64" y="299.50" width="1.8" height="2.0" fill="#d83a48" fill-opacity="0.85"/>
<path d="M322.96,300.20h2.1v0.8h-0.5v2.20h0.5v0.8h-2.1v-0.8h0.5v-2.20h-0.5z" fill="#d83a48"/>
<rect x="323.11" y="301.10" width="1.8" height="2.0" fill="#d83a48" fill-opacity="0.85"/>
<path d="M327.43,301.20h2.1v0.8h-0.5v2.20h0.5v0.8h-2.1v-0.8h0.5v-2.20h-0.5z" fill="#d83a48"/>
<rect x="327.58" y="302.10" width="1.8" height="2.0" fill="#d83a48" fill-opacity="0.85"/>
<path d="M331.90,301.50h2.1v0.8h-0.5v2.20h0.5v0.8h-2.1v-0.8h0.5v-2.20h-0.5z" fill="#d83a48"/>
<rect x="332.05" y="302.40" width="1.8" height="2.0" fill="#d83a48" fill-opacity="0.85"/>
<path d="M336.37,301.50h2.1v0.8h-0.5v2.20h0.5v0.8h-2.1v-0.8h0.5v-2.20h-0.5z" fill="#d83a48"/>
<rect x="336.52" y="302.40" width="1.8" height="2.0" fill="#d83a48" fill-opacity="0.85"/>
<path d="M340.84,301.20h2.1v0.8h-0.5v2.20h0.5v0.8h-2.1v-0.8h0.5v-2.20h-0.5z" fill="#d83a48"/>
<rect x="340.99" y="302.10" width="1.8" height="2.0" fill="#d83a48" fill-opacity="0.85"/>
<path d="M345.31,301.50h2.1v0.8h-0.5v2.20h0.5v0.8h-2.1v-0.8h0.5v-2.20h-0.5z" fill="#d83a48"/>
<rect x="345.46" y="302.40" width="1.8" height="2.0" fill="#d83a48" fill-opacity="0.85"/>
<path d="M349.78,301.20h2.1v0.8h-0.5v2.20h0.5v0.8h-2.1v-0.8h0.5v-2.20h-0.5z" fill="#d83a48"/>
<rect x="349.93" y="302.10" width="1.8" height="2.0" fill="#d83a48" fill-opacity="0.85"/>
<path d="M354.25,301.90h2.1v0.8h-0.5v2.20h0.5v0.8h-2.1v-0.8h0.5v-2.20h-0.5z" fill="#d83a48"/>
<rect x="354.40" y="302.80" width="1.8" height="2.0" fill="#d83a48" fill-opacity="0.85"/>
<path d="M358.72,301.90h2.1v0.8h-0.5v2.20h0.5v0.8h-2.1v-0.8h0.5v-2.20h-0.5z" fill="#d83a48"/>
<rect x="358.87" y="302.80" width="1.8" height="2.0" fill="#d83a48" fill-opacity="0.85"/>
<path d="M363.19,302.20h2.1v0.8h-0.5v2.20h0.5v0.8h-2.1v-0.8h0.5v-2.20h-0.5z" fill="#d83a48"/>
<rect x="363.34" y="303.10" width="1.8" height="2.0" fill="#d83a48" fill-opacity="0.85"/>
<path d="M367.66,302.40h2.1v0.8h-0.5v2.20h0.5v0.8h-2.1v-0.8h0.5v-2.20h-0.5z" fill="#d83a48"/>
<rect x="367.81" y="303.30" width="1.8" height="2.0" fill="#d83a48" fill-opacity="0.85"/>
<path d="M372.13,302.90h2.1v0.8h-0.5v2.20h0.5v0.8h-2.1v-0.8h0.5v-2.20h-0.5z" fill="#d83a48"/>
<rect x="372.28" y="303.80" width="1.8" height="2.0" fill="#d83a48" fill-opacity="0.85"/>
<path d="M376.60,303.20h2.1v0.8h-0.5v2.20h0.5v0.8h-2.1v-0.8h0.5v-2.20h-0.5z" fill="#d83a48"/>
<rect x="376.75" y="304.10" width="1.8" height="2.0" fill="#d83a48" fill-opacity="0.85"/>
<path d="M381.07,303.20h2.1v0.8h-0.5v2.20h0.5v0.8h-2.1v-0.8h0.5v-2.20h-0.5z" fill="#d83a48"/>
<rect x="381.22" y="304.10" width="1.8" height="2.0" fill="#d83a48" fill-opacity="0.85"/>
<path d="M385.54,298.80h2.1v0.8h-0.5v2.20h0.5v0.8h-2.1v-0.8h0.5v-2.20h-0.5z" fill="#d83a48"/>
<rect x="385.69" y="299.70" width="1.8" height="2.0" fill="#d83a48" fill-opacity="0.85"/>
<path d="M390.01,285.40h2.1v0.8h-0.5v2.20h0.5v0.8h-2.1v-0.8h0.5v-2.20h-0.5z" fill="#d83a48"/>
<rect x="390.16" y="286.30" width="1.8" height="2.0" fill="#d83a48" fill-opacity="0.85"/>
<path d="M394.48,283.40h2.1v0.8h-0.5v2.20h0.5v0.8h-2.1v-0.8h0.5v-2.20h-0.5z" fill="#d83a48"/>
<rect x="394.63" y="284.30" width="1.8" height="2.0" fill="#d83a48" fill-opacity="0.85"/>
<rect x="272.20" y="402.80" width="1.2" height="93.00" fill="#8a8a8a"/>
<text x="272.80" y="397.80" font-size="6.6" font-weight="bold" fill="#222" text-anchor="middle" >a</text>
<rect x="289.90" y="402.80" width="1.2" height="93.00" fill="#8a8a8a"/>
<text x="290.50" y="397.80" font-size="6.6" font-weight="bold" fill="#222" text-anchor="middle" >b</text>
<rect x="308.20" y="402.80" width="1.2" height="93.00" fill="#8a8a8a"/>
<text x="308.80" y="397.80" font-size="6.6" font-weight="bold" fill="#222" text-anchor="middle" >c</text>
<rect x="375.30" y="402.80" width="1.2" height="93.00" fill="#8a8a8a"/>
<text x="375.90" y="397.80" font-size="6.6" font-weight="bold" fill="#222" text-anchor="middle" >d</text>
<rect x="267.45" y="402.30" width="1.5" height="94.00" fill="#111"/>
<rect x="267.45" y="495.05" width="150.70" height="1.5" fill="#111"/>
<rect x="263.40" y="495.20" width="4.8" height="1.2" fill="#111"/>
<text x="262.60" y="498.00" font-size="6.4" font-weight="bold" fill="#111" text-anchor="end" textLength="10.30" lengthAdjust="spacingAndGlyphs" >6.0</text>
<rect x="263.40" y="471.95" width="4.8" height="1.2" fill="#111"/>
<text x="262.60" y="474.75" font-size="6.4" font-weight="bold" fill="#111" text-anchor="end" textLength="10.30" lengthAdjust="spacingAndGlyphs" >6.5</text>
<rect x="263.40" y="448.70" width="4.8" height="1.2" fill="#111"/>
<text x="262.60" y="451.50" font-size="6.4" font-weight="bold" fill="#111" text-anchor="end" textLength="10.30" lengthAdjust="spacingAndGlyphs" >7.0</text>
<rect x="263.40" y="425.45" width="4.8" height="1.2" fill="#111"/>
<text x="262.60" y="428.25" font-size="6.4" font-weight="bold" fill="#111" text-anchor="end" textLength="10.30" lengthAdjust="spacingAndGlyphs" >7.5</text>
<rect x="263.40" y="402.20" width="4.8" height="1.2" fill="#111"/>
<text x="262.60" y="405.00" font-size="6.4" font-weight="bold" fill="#111" text-anchor="end" textLength="10.30" lengthAdjust="spacingAndGlyphs" >8.0</text>
<rect x="267.60" y="495.80" width="1.2" height="4" fill="#111"/>
<text x="268.20" y="508.50" font-size="7.3" font-weight="bold" fill="#111" text-anchor="middle" >0</text>
<rect x="297.44" y="495.80" width="1.2" height="4" fill="#111"/>
<text x="298.04" y="508.50" font-size="7.3" font-weight="bold" fill="#111" text-anchor="middle" >500</text>
<rect x="327.28" y="495.80" width="1.2" height="4" fill="#111"/>
<text x="327.88" y="508.50" font-size="7.3" font-weight="bold" fill="#111" text-anchor="middle" >1000</text>
<rect x="357.12" y="495.80" width="1.2" height="4" fill="#111"/>
<text x="357.72" y="508.50" font-size="7.3" font-weight="bold" fill="#111" text-anchor="middle" >1500</text>
<rect x="386.96" y="495.80" width="1.2" height="4" fill="#111"/>
<text x="387.56" y="508.50" font-size="7.3" font-weight="bold" fill="#111" text-anchor="middle" >2000</text>
<rect x="416.80" y="495.80" width="1.2" height="4" fill="#111"/>
<text x="417.40" y="508.50" font-size="7.3" font-weight="bold" fill="#111" text-anchor="middle" >2500</text>
<text x="342.80" y="519.10" font-size="7.6" font-weight="bold" fill="#111" text-anchor="middle" textLength="32.50" lengthAdjust="spacingAndGlyphs" >Seconds</text>
<text transform="translate(249.00,449.30) rotate(-90)" font-size="7.6" font-weight="bold" fill="#111" text-anchor="middle">pHi</text>
<text x="283.36" y="380.20" font-size="9.5" font-weight="bold" fill="#111" textLength="118.21" lengthAdjust="spacingAndGlyphs" >MDA-MB-231 Acetate Flux</text>
<path d="M267.30,471.10h2.2v0.8h-0.6v2.20h0.6v0.8h-2.2v-0.8h0.6v-2.20h-0.6z" fill="#2a2a2a"/>
<rect x="267.60" y="472.20" width="1.6" height="1.6" fill="#2a2a2a" fill-opacity="0.8"/>
<path d="M271.77,470.20h2.2v0.8h-0.6v2.20h0.6v0.8h-2.2v-0.8h0.6v-2.20h-0.6z" fill="#2a2a2a"/>
<rect x="272.07" y="471.30" width="1.6" height="1.6" fill="#2a2a2a" fill-opacity="0.8"/>
<path d="M276.24,452.40h2.2v0.8h-0.6v2.20h0.6v0.8h-2.2v-0.8h0.6v-2.20h-0.6z" fill="#2a2a2a"/>
<rect x="276.54" y="453.50" width="1.6" height="1.6" fill="#2a2a2a" fill-opacity="0.8"/>
<path d="M280.71,441.30h2.2v0.8h-0.6v2.20h0.6v0.8h-2.2v-0.8h0.6v-2.20h-0.6z" fill="#2a2a2a"/>
<rect x="281.01" y="442.40" width="1.6" height="1.6" fill="#2a2a2a" fill-opacity="0.8"/>
<path d="M285.18,441.00h2.2v0.8h-0.6v2.20h0.6v0.8h-2.2v-0.8h0.6v-2.20h-0.6z" fill="#2a2a2a"/>
<rect x="285.48" y="442.10" width="1.6" height="1.6" fill="#2a2a2a" fill-opacity="0.8"/>
<path d="M289.65,442.40h2.2v0.8h-0.6v2.20h0.6v0.8h-2.2v-0.8h0.6v-2.20h-0.6z" fill="#2a2a2a"/>
<rect x="289.95" y="443.50" width="1.6" height="1.6" fill="#2a2a2a" fill-opacity="0.8"/>
<path d="M294.12,466.90h2.2v0.8h-0.6v2.20h0.6v0.8h-2.2v-0.8h0.6v-2.20h-0.6z" fill="#2a2a2a"/>
<rect x="294.42" y="468.00" width="1.6" height="1.6" fill="#2a2a2a" fill-opacity="0.8"/>
<path d="M298.59,469.60h2.2v0.8h-0.6v2.20h0.6v0.8h-2.2v-0.8h0.6v-2.20h-0.6z" fill="#2a2a2a"/>
<rect x="298.89" y="470.70" width="1.6" height="1.6" fill="#2a2a2a" fill-opacity="0.8"/>
<path d="M303.06,469.00h2.2v0.8h-0.6v2.20h0.6v0.8h-2.2v-0.8h0.6v-2.20h-0.6z" fill="#2a2a2a"/>
<rect x="303.36" y="470.10" width="1.6" height="1.6" fill="#2a2a2a" fill-opacity="0.8"/>
<path d="M307.53,467.30h2.2v0.8h-0.6v2.20h0.6v0.8h-2.2v-0.8h0.6v-2.20h-0.6z" fill="#2a2a2a"/>
<rect x="307.83" y="468.40" width="1.6" height="1.6" fill="#2a2a2a" fill-opacity="0.8"/>
<path d="M312.00,468.90h2.2v0.8h-0.6v2.20h0.6v0.8h-2.2v-0.8h0.6v-2.20h-0.6z" fill="#2a2a2a"/>
<rect x="312.30" y="470.00" width="1.6" height="1.6" fill="#2a2a2a" fill-opacity="0.8"/>
<path d="M316.47,467.80h2.2v0.8h-0.6v2.20h0.6v0.8h-2.2v-0.8h0.6v-2.20h-0.6z" fill="#2a2a2a"/>
<rect x="316.77" y="468.90" width="1.6" height="1.6" fill="#2a2a2a" fill-opacity="0.8"/>
<path d="M320.94,467.00h2.2v0.8h-0.6v2.20h0.6v0.8h-2.2v-0.8h0.6v-2.20h-0.6z" fill="#2a2a2a"/>
<rect x="321.24" y="468.10" width="1.6" height="1.6" fill="#2a2a2a" fill-opacity="0.8"/>
<path d="M325.41,466.60h2.2v0.8h-0.6v2.20h0.6v0.8h-2.2v-0.8h0.6v-2.20h-0.6z" fill="#2a2a2a"/>
<rect x="325.71" y="467.70" width="1.6" height="1.6" fill="#2a2a2a" fill-opacity="0.8"/>
<path d="M329.88,466.10h2.2v0.8h-0.6v2.20h0.6v0.8h-2.2v-0.8h0.6v-2.20h-0.6z" fill="#2a2a2a"/>
<rect x="330.18" y="467.20" width="1.6" height="1.6" fill="#2a2a2a" fill-opacity="0.8"/>
<path d="M334.35,465.70h2.2v0.8h-0.6v2.20h0.6v0.8h-2.2v-0.8h0.6v-2.20h-0.6z" fill="#2a2a2a"/>
<rect x="334.65" y="466.80" width="1.6" height="1.6" fill="#2a2a2a" fill-opacity="0.8"/>
<path d="M338.82,464.70h2.2v0.8h-0.6v2.20h0.6v0.8h-2.2v-0.8h0.6v-2.20h-0.6z" fill="#2a2a2a"/>
<rect x="339.12" y="465.80" width="1.6" height="1.6" fill="#2a2a2a" fill-opacity="0.8"/>
<path d="M343.29,464.30h2.2v0.8h-0.6v2.20h0.6v0.8h-2.2v-0.8h0.6v-2.20h-0.6z" fill="#2a2a2a"/>
<rect x="343.59" y="465.40" width="1.6" height="1.6" fill="#2a2a2a" fill-opacity="0.8"/>
<path d="M347.76,464.10h2.2v0.8h-0.6v2.20h0.6v0.8h-2.2v-0.8h0.6v-2.20h-0.6z" fill="#2a2a2a"/>
<rect x="348.06" y="465.20" width="1.6" height="1.6" fill="#2a2a2a" fill-opacity="0.8"/>
<path d="M352.23,463.20h2.2v0.8h-0.6v2.20h0.6v0.8h-2.2v-0.8h0.6v-2.20h-0.6z" fill="#2a2a2a"/>
<rect x="352.53" y="464.30" width="1.6" height="1.6" fill="#2a2a2a" fill-opacity="0.8"/>
<path d="M356.70,463.10h2.2v0.8h-0.6v2.20h0.6v0.8h-2.2v-0.8h0.6v-2.20h-0.6z" fill="#2a2a2a"/>
<rect x="357.00" y="464.20" width="1.6" height="1.6" fill="#2a2a2a" fill-opacity="0.8"/>
<path d="M361.17,462.60h2.2v0.8h-0.6v2.20h0.6v0.8h-2.2v-0.8h0.6v-2.20h-0.6z" fill="#2a2a2a"/>
<rect x="361.47" y="463.70" width="1.6" height="1.6" fill="#2a2a2a" fill-opacity="0.8"/>
<path d="M365.64,462.30h2.2v0.8h-0.6v2.20h0.6v0.8h-2.2v-0.8h0.6v-2.20h-0.6z" fill="#2a2a2a"/>
<rect x="365.94" y="463.40" width="1.6" height="1.6" fill="#2a2a2a" fill-opacity="0.8"/>
<path d="M370.11,461.90h2.2v0.8h-0.6v2.20h0.6v0.8h-2.2v-0.8h0.6v-2.20h-0.6z" fill="#2a2a2a"/>
<rect x="370.41" y="463.00" width="1.6" height="1.6" fill="#2a2a2a" fill-opacity="0.8"/>
<path d="M374.58,461.60h2.2v0.8h-0.6v2.20h0.6v0.8h-2.2v-0.8h0.6v-2.20h-0.6z" fill="#2a2a2a"/>
<rect x="374.88" y="462.70" width="1.6" height="1.6" fill="#2a2a2a" fill-opacity="0.8"/>
<path d="M379.05,448.80h2.2v0.8h-0.6v2.20h0.6v0.8h-2.2v-0.8h0.6v-2.20h-0.6z" fill="#2a2a2a"/>
<rect x="379.35" y="449.90" width="1.6" height="1.6" fill="#2a2a2a" fill-opacity="0.8"/>
<path d="M383.52,423.50h2.2v0.8h-0.6v2.20h0.6v0.8h-2.2v-0.8h0.6v-2.20h-0.6z" fill="#2a2a2a"/>
<rect x="383.82" y="424.60" width="1.6" height="1.6" fill="#2a2a2a" fill-opacity="0.8"/>
<path d="M387.99,423.00h2.2v0.8h-0.6v2.20h0.6v0.8h-2.2v-0.8h0.6v-2.20h-0.6z" fill="#2a2a2a"/>
<rect x="388.29" y="424.10" width="1.6" height="1.6" fill="#2a2a2a" fill-opacity="0.8"/>
<path d="M267.35,471.90h2.1v0.8h-0.5v2.20h0.5v0.8h-2.1v-0.8h0.5v-2.20h-0.5z" fill="#d83a48"/>
<rect x="267.50" y="472.80" width="1.8" height="2.0" fill="#d83a48" fill-opacity="0.85"/>
<path d="M271.82,471.30h2.1v0.8h-0.5v2.20h0.5v0.8h-2.1v-0.8h0.5v-2.20h-0.5z" fill="#d83a48"/>
<rect x="271.97" y="472.20" width="1.8" height="2.0" fill="#d83a48" fill-opacity="0.85"/>
<path d="M276.29,463.70h2.1v0.8h-0.5v2.20h0.5v0.8h-2.1v-0.8h0.5v-2.20h-0.5z" fill="#d83a48"/>
<rect x="276.44" y="464.60" width="1.8" height="2.0" fill="#d83a48" fill-opacity="0.85"/>
<path d="M280.76,448.80h2.1v0.8h-0.5v2.20h0.5v0.8h-2.1v-0.8h0.5v-2.20h-0.5z" fill="#d83a48"/>
<rect x="280.91" y="449.70" width="1.8" height="2.0" fill="#d83a48" fill-opacity="0.85"/>
<path d="M285.23,441.10h2.1v0.8h-0.5v2.20h0.5v0.8h-2.1v-0.8h0.5v-2.20h-0.5z" fill="#d83a48"/>
<rect x="285.38" y="442.00" width="1.8" height="2.0" fill="#d83a48" fill-opacity="0.85"/>
<path d="M289.70,439.20h2.1v0.8h-0.5v2.20h0.5v0.8h-2.1v-0.8h0.5v-2.20h-0.5z" fill="#d83a48"/>
<rect x="289.85" y="440.10" width="1.8" height="2.0" fill="#d83a48" fill-opacity="0.85"/>
<path d="M294.17,445.00h2.1v0.8h-0.5v2.20h0.5v0.8h-2.1v-0.8h0.5v-2.20h-0.5z" fill="#d83a48"/>
<rect x="294.32" y="445.90" width="1.8" height="2.0" fill="#d83a48" fill-opacity="0.85"/>
<path d="M298.64,464.90h2.1v0.8h-0.5v2.20h0.5v0.8h-2.1v-0.8h0.5v-2.20h-0.5z" fill="#d83a48"/>
<rect x="298.79" y="465.80" width="1.8" height="2.0" fill="#d83a48" fill-opacity="0.85"/>
<path d="M303.11,464.30h2.1v0.8h-0.5v2.20h0.5v0.8h-2.1v-0.8h0.5v-2.20h-0.5z" fill="#d83a48"/>
<rect x="303.26" y="465.20" width="1.8" height="2.0" fill="#d83a48" fill-opacity="0.85"/>
<path d="M307.58,462.60h2.1v0.8h-0.5v2.20h0.5v0.8h-2.1v-0.8h0.5v-2.20h-0.5z" fill="#d83a48"/>
<rect x="307.73" y="463.50" width="1.8" height="2.0" fill="#d83a48" fill-opacity="0.85"/>
<path d="M312.05,463.60h2.1v0.8h-0.5v2.20h0.5v0.8h-2.1v-0.8h0.5v-2.20h-0.5z" fill="#d83a48"/>
<rect x="312.20" y="464.50" width="1.8" height="2.0" fill="#d83a48" fill-opacity="0.85"/>
<path d="M316.52,465.70h2.1v0.8h-0.5v2.20h0.5v0.8h-2.1v-0.8h0.5v-2.20h-0.5z" fill="#d83a48"/>
<rect x="316.67" y="466.60" width="1.8" height="2.0" fill="#d83a48" fill-opacity="0.85"/>
<path d="M320.99,466.60h2.1v0.8h-0.5v2.20h0.5v0.8h-2.1v-0.8h0.5v-2.20h-0.5z" fill="#d83a48"/>
<rect x="321.14" y="467.50" width="1.8" height="2.0" fill="#d83a48" fill-opacity="0.85"/>
<path d="M325.46,466.60h2.1v0.8h-0.5v2.20h0.5v0.8h-2.1v-0.8h0.5v-2.20h-0.5z" fill="#d83a48"/>
<rect x="325.61" y="467.50" width="1.8" height="2.0" fill="#d83a48" fill-opacity="0.85"/>
<path d="M329.93,467.40h2.1v0.8h-0.5v2.20h0.5v0.8h-2.1v-0.8h0.5v-2.20h-0.5z" fill="#d83a48"/>
<rect x="330.08" y="468.30" width="1.8" height="2.0" fill="#d83a48" fill-opacity="0.85"/>
<path d="M334.40,467.40h2.1v0.8h-0.5v2.20h0.5v0.8h-2.1v-0.8h0.5v-2.20h-0.5z" fill="#d83a48"/>
<rect x="334.55" y="468.30" width="1.8" height="2.0" fill="#d83a48" fill-opacity="0.85"/>
<path d="M338.87,468.90h2.1v0.8h-0.5v2.20h0.5v0.8h-2.1v-0.8h0.5v-2.20h-0.5z" fill="#d83a48"/>
<rect x="339.02" y="469.80" width="1.8" height="2.0" fill="#d83a48" fill-opacity="0.85"/>
<path d="M343.34,468.90h2.1v0.8h-0.5v2.20h0.5v0.8h-2.1v-0.8h0.5v-2.20h-0.5z" fill="#d83a48"/>
<rect x="343.49" y="469.80" width="1.8" height="2.0" fill="#d83a48" fill-opacity="0.85"/>
<path d="M347.81,468.90h2.1v0.8h-0.5v2.20h0.5v0.8h-2.1v-0.8h0.5v-2.20h-0.5z" fill="#d83a48"/>
<rect x="347.96" y="469.80" width="1.8" height="2.0" fill="#d83a48" fill-opacity="0.85"/>
<path d="M352.28,469.50h2.1v0.8h-0.5v2.20h0.5v0.8h-2.1v-0.8h0.5v-2.20h-0.5z" fill="#d83a48"/>
<rect x="352.43" y="470.40" width="1.8" height="2.0" fill="#d83a48" fill-opacity="0.85"/>
<path d="M356.75,469.50h2.1v0.8h-0.5v2.20h0.5v0.8h-2.1v-0.8h0.5v-2.20h-0.5z" fill="#d83a48"/>
<rect x="356.90" y="470.40" width="1.8" height="2.0" fill="#d83a48" fill-opacity="0.85"/>
<path d="M361.22,470.30h2.1v0.8h-0.5v2.20h0.5v0.8h-2.1v-0.8h0.5v-2.20h-0.5z" fill="#d83a48"/>
<rect x="361.37" y="471.20" width="1.8" height="2.0" fill="#d83a48" fill-opacity="0.85"/>
<path d="M365.69,470.30h2.1v0.8h-0.5v2.20h0.5v0.8h-2.1v-0.8h0.5v-2.20h-0.5z" fill="#d83a48"/>
<rect x="365.84" y="471.20" width="1.8" height="2.0" fill="#d83a48" fill-opacity="0.85"/>
<path d="M370.16,471.00h2.1v0.8h-0.5v2.20h0.5v0.8h-2.1v-0.8h0.5v-2.20h-0.5z" fill="#d83a48"/>
<rect x="370.31" y="471.90" width="1.8" height="2.0" fill="#d83a48" fill-opacity="0.85"/>
<path d="M374.63,471.10h2.1v0.8h-0.5v2.20h0.5v0.8h-2.1v-0.8h0.5v-2.20h-0.5z" fill="#d83a48"/>
<rect x="374.78" y="472.00" width="1.8" height="2.0" fill="#d83a48" fill-opacity="0.85"/>
<path d="M379.10,470.70h2.1v0.8h-0.5v2.20h0.5v0.8h-2.1v-0.8h0.5v-2.20h-0.5z" fill="#d83a48"/>
<rect x="379.25" y="471.60" width="1.8" height="2.0" fill="#d83a48" fill-opacity="0.85"/>
<path d="M383.57,457.60h2.1v0.8h-0.5v2.20h0.5v0.8h-2.1v-0.8h0.5v-2.20h-0.5z" fill="#d83a48"/>
<rect x="383.72" y="458.50" width="1.8" height="2.0" fill="#d83a48" fill-opacity="0.85"/>
<path d="M388.04,456.30h2.1v0.8h-0.5v2.20h0.5v0.8h-2.1v-0.8h0.5v-2.20h-0.5z" fill="#d83a48"/>
<rect x="388.19" y="457.20" width="1.8" height="2.0" fill="#d83a48" fill-opacity="0.85"/>
<rect x="164.4" y="532.5" width="1.2" height="15" fill="#111"/>
<rect x="160.3" y="535.3" width="9.9" height="9.3" fill="#111"/>
<text x="178.00" y="541.40" font-size="8.0" font-weight="bold" fill="#111" text-anchor="start" textLength="27.70" lengthAdjust="spacingAndGlyphs" >Aspirin</text>
<rect x="244" y="532.5" width="1.2" height="15" fill="#d9262f"/>
<circle cx="244.6" cy="540.1" r="6.1" fill="#d9262f"/>
<text x="254.30" y="541.40" font-size="8.0" font-weight="bold" fill="#d9262f" text-anchor="start" textLength="41.50" lengthAdjust="spacingAndGlyphs" >Diclofenac</text>
</svg>
</body></html>
